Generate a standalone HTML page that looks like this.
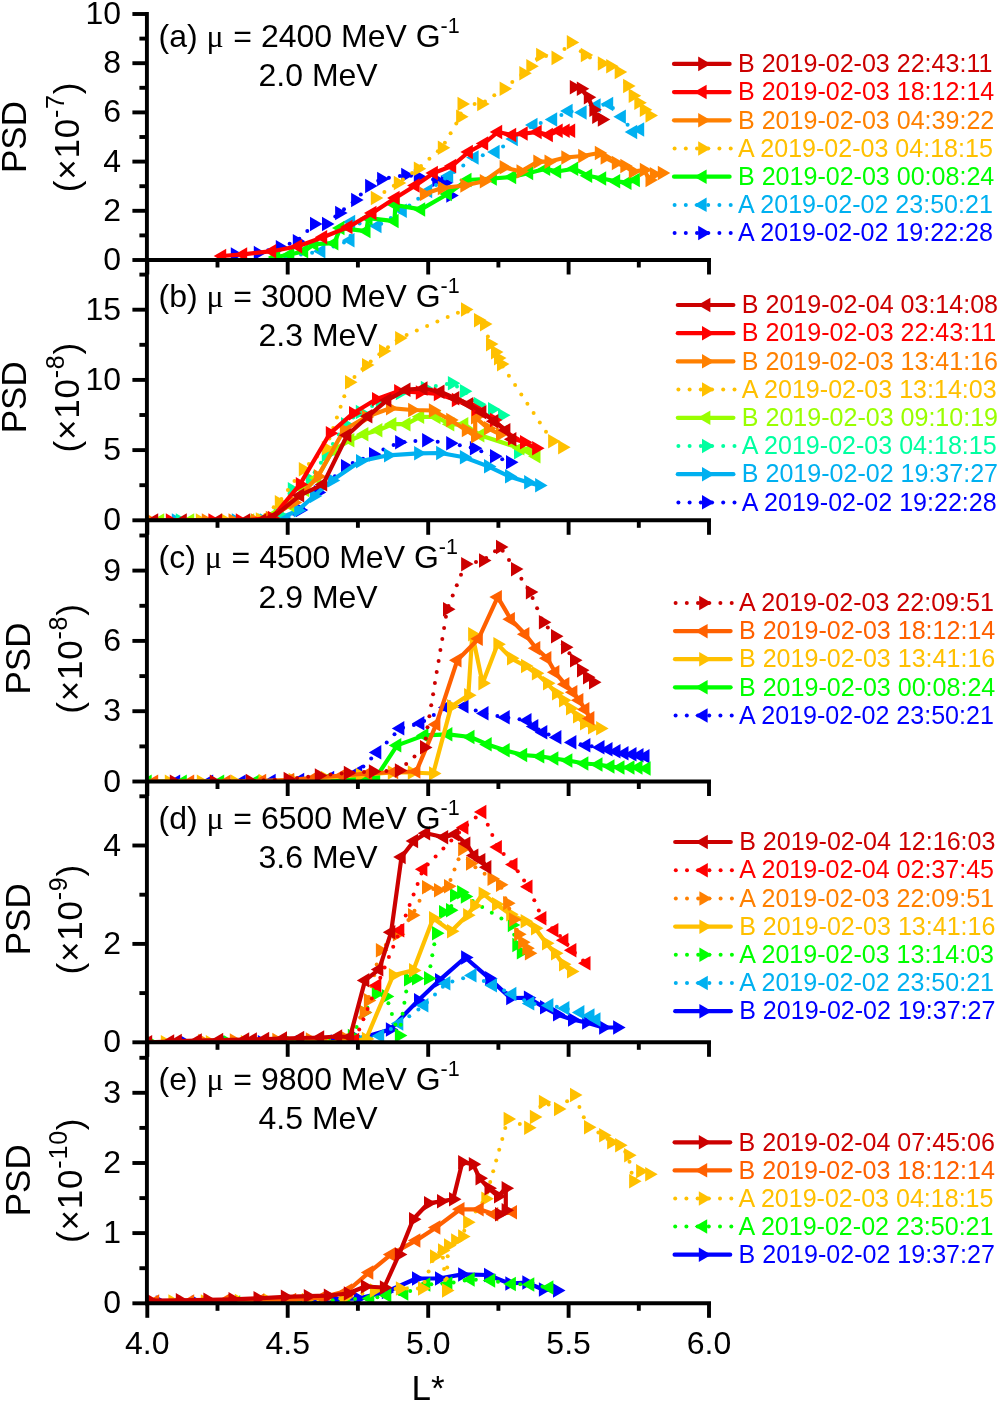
<!DOCTYPE html>
<html lang="en"><head><meta charset="utf-8"><title>PSD vs L*</title>
<style>html,body{margin:0;padding:0;background:#fff}svg{display:block}text{font-family:"Liberation Sans", sans-serif;}</style></head><body>
<svg width="998" height="1401" viewBox="0 0 998 1401">
<rect width="998" height="1401" fill="#fff"/>
<clipPath id="cp0"><rect x="146.9" y="0" width="582.1" height="260.0"/></clipPath>
<g clip-path="url(#cp0)">
<g fill="#0000FF"><circle cx="235.0" cy="254.5" r="2.0"/><circle cx="246.2" cy="253.8" r="2.0"/><circle cx="257.4" cy="253.0" r="2.0"/><circle cx="268.2" cy="250.3" r="2.0"/><circle cx="279.0" cy="247.5" r="2.0"/><circle cx="289.6" cy="243.8" r="2.0"/><circle cx="299.4" cy="238.8" r="2.0"/><circle cx="307.3" cy="230.9" r="2.0"/><circle cx="315.7" cy="224.1" r="2.0"/><circle cx="326.7" cy="223.6" r="2.0"/><circle cx="335.3" cy="216.4" r="2.0"/><circle cx="344.0" cy="209.3" r="2.0"/><circle cx="352.7" cy="202.2" r="2.0"/><circle cx="360.8" cy="194.6" r="2.0"/><circle cx="368.7" cy="186.7" r="2.0"/><circle cx="378.2" cy="180.8" r="2.0"/><circle cx="388.9" cy="177.7" r="2.0"/><circle cx="399.9" cy="175.9" r="2.0"/><circle cx="411.0" cy="175.7" r="2.0"/><circle cx="422.1" cy="177.3" r="2.0"/><circle cx="433.1" cy="179.4" r="2.0"/><circle cx="443.8" cy="182.3" r="2.0"/><circle cx="449.0" cy="191.9" r="2.0"/></g>
<polygon points="230.8,247.2 243.3,254.5 230.8,261.8" fill="#0000FF"/>
<polygon points="253.8,245.8 266.3,253.0 253.8,260.2" fill="#0000FF"/>
<polygon points="275.8,239.9 288.3,247.2 275.8,254.4" fill="#0000FF"/>
<polygon points="292.8,233.9 305.3,241.2 292.8,248.4" fill="#0000FF"/>
<polygon points="310.0,216.8 322.5,224.1 310.0,231.3" fill="#0000FF"/>
<polygon points="322.0,216.8 334.5,224.1 322.0,231.3" fill="#0000FF"/>
<polygon points="335.1,205.8 347.6,213.1 335.1,220.3" fill="#0000FF"/>
<polygon points="351.1,192.8 363.6,200.1 351.1,207.3" fill="#0000FF"/>
<polygon points="365.1,178.8 377.6,186.1 365.1,193.3" fill="#0000FF"/>
<polygon points="377.1,171.8 389.6,179.0 377.1,186.2" fill="#0000FF"/>
<polygon points="401.2,167.8 413.7,175.0 401.2,182.2" fill="#0000FF"/>
<polygon points="413.8,169.2 426.3,176.5 413.8,183.8" fill="#0000FF"/>
<polygon points="432.3,172.8 444.8,180.0 432.3,187.2" fill="#0000FF"/>
<polygon points="440.8,175.4 453.3,182.7 440.8,189.9" fill="#0000FF"/>
<polygon points="446.3,188.2 458.8,195.4 446.3,202.7" fill="#0000FF"/>
<g fill="#00B0F0"><circle cx="290.0" cy="256.5" r="2.0"/><circle cx="301.0" cy="254.6" r="2.0"/><circle cx="312.1" cy="252.7" r="2.0"/><circle cx="323.0" cy="250.5" r="2.0"/><circle cx="333.5" cy="246.5" r="2.0"/><circle cx="344.0" cy="242.6" r="2.0"/><circle cx="350.5" cy="235.8" r="2.0"/><circle cx="350.9" cy="224.6" r="2.0"/><circle cx="359.6" cy="223.4" r="2.0"/><circle cx="370.7" cy="225.1" r="2.0"/><circle cx="381.2" cy="223.8" r="2.0"/><circle cx="390.8" cy="218.0" r="2.0"/><circle cx="400.3" cy="212.2" r="2.0"/><circle cx="409.4" cy="205.5" r="2.0"/><circle cx="418.2" cy="198.7" r="2.0"/><circle cx="427.0" cy="191.8" r="2.0"/><circle cx="436.0" cy="185.1" r="2.0"/><circle cx="445.1" cy="178.5" r="2.0"/><circle cx="454.2" cy="172.0" r="2.0"/><circle cx="463.3" cy="165.5" r="2.0"/><circle cx="472.4" cy="158.9" r="2.0"/><circle cx="482.8" cy="155.3" r="2.0"/><circle cx="493.7" cy="152.5" r="2.0"/><circle cx="503.1" cy="146.5" r="2.0"/><circle cx="512.2" cy="140.0" r="2.0"/><circle cx="521.3" cy="133.5" r="2.0"/><circle cx="530.4" cy="127.0" r="2.0"/><circle cx="540.7" cy="123.0" r="2.0"/><circle cx="551.5" cy="120.0" r="2.0"/><circle cx="561.4" cy="114.9" r="2.0"/><circle cx="571.6" cy="111.4" r="2.0"/><circle cx="582.7" cy="112.5" r="2.0"/><circle cx="592.7" cy="107.4" r="2.0"/><circle cx="603.4" cy="104.7" r="2.0"/><circle cx="612.9" cy="108.0" r="2.0"/><circle cx="620.8" cy="115.9" r="2.0"/><circle cx="627.6" cy="124.8" r="2.0"/><circle cx="635.1" cy="131.2" r="2.0"/></g>
<polygon points="294.2,249.2 281.7,256.5 294.2,263.8" fill="#00B0F0"/>
<polygon points="325.4,243.9 312.9,251.2 325.4,258.4" fill="#00B0F0"/>
<polygon points="354.5,232.9 342.0,240.2 354.5,247.4" fill="#00B0F0"/>
<polygon points="355.2,214.8 342.7,222.1 355.2,229.3" fill="#00B0F0"/>
<polygon points="381.5,218.8 369.0,226.1 381.5,233.3" fill="#00B0F0"/>
<polygon points="406.8,203.6 394.3,210.8 406.8,218.1" fill="#00B0F0"/>
<polygon points="432.2,183.8 419.7,191.0 432.2,198.2" fill="#00B0F0"/>
<polygon points="453.2,168.4 440.7,175.7 453.2,182.9" fill="#00B0F0"/>
<polygon points="478.6,150.2 466.1,157.5 478.6,164.8" fill="#00B0F0"/>
<polygon points="499.6,144.8 487.1,152.0 499.6,159.2" fill="#00B0F0"/>
<polygon points="517.8,131.8 505.3,139.0 517.8,146.2" fill="#00B0F0"/>
<polygon points="537.5,117.8 525.0,125.0 537.5,132.2" fill="#00B0F0"/>
<polygon points="557.2,112.3 544.7,119.6 557.2,126.8" fill="#00B0F0"/>
<polygon points="572.6,103.8 560.1,111.0 572.6,118.2" fill="#00B0F0"/>
<polygon points="586.6,105.3 574.1,112.6 586.6,119.8" fill="#00B0F0"/>
<polygon points="600.6,98.3 588.1,105.6 600.6,112.8" fill="#00B0F0"/>
<polygon points="613.2,96.8 600.7,104.0 613.2,111.2" fill="#00B0F0"/>
<polygon points="625.9,109.5 613.4,116.8 625.9,124.0" fill="#00B0F0"/>
<polygon points="637.2,124.8 624.7,132.0 637.2,139.2" fill="#00B0F0"/>
<polygon points="644.2,122.2 631.7,129.4 644.2,136.7" fill="#00B0F0"/>
<path d="M276.0 257.0 L290.0 254.5 L304.0 251.2 L314.2 244.2 L334.2 243.2 L340.3 228.1 L366.3 231.1 L368.3 218.1 L394.4 221.1 L395.4 205.1 L421.0 209.4 L447.7 194.0 L467.3 180.0 L492.6 178.5 L512.0 177.0 L529.0 173.0 L546.0 168.7 L557.0 171.5 L574.0 168.7 L588.0 175.7 L602.0 178.5 L616.0 181.3 L627.3 182.7 L635.7 180.0" fill="none" stroke="#00FF00" stroke-width="4.2" stroke-linejoin="round" stroke-linecap="round"/>
<polygon points="280.2,249.8 267.7,257.0 280.2,264.2" fill="#00FF00"/>
<polygon points="294.2,247.2 281.7,254.5 294.2,261.8" fill="#00FF00"/>
<polygon points="308.2,243.9 295.7,251.2 308.2,258.4" fill="#00FF00"/>
<polygon points="318.4,236.9 305.9,244.2 318.4,251.4" fill="#00FF00"/>
<polygon points="338.4,235.9 325.9,243.2 338.4,250.4" fill="#00FF00"/>
<polygon points="344.5,220.8 332.0,228.1 344.5,235.3" fill="#00FF00"/>
<polygon points="370.5,223.8 358.0,231.1 370.5,238.3" fill="#00FF00"/>
<polygon points="372.5,210.8 360.0,218.1 372.5,225.3" fill="#00FF00"/>
<polygon points="398.6,213.8 386.1,221.1 398.6,228.3" fill="#00FF00"/>
<polygon points="399.6,197.8 387.1,205.1 399.6,212.3" fill="#00FF00"/>
<polygon points="425.2,202.2 412.7,209.4 425.2,216.7" fill="#00FF00"/>
<polygon points="451.9,186.8 439.4,194.0 451.9,201.2" fill="#00FF00"/>
<polygon points="471.5,172.8 459.0,180.0 471.5,187.2" fill="#00FF00"/>
<polygon points="496.8,171.2 484.3,178.5 496.8,185.8" fill="#00FF00"/>
<polygon points="516.2,169.8 503.7,177.0 516.2,184.2" fill="#00FF00"/>
<polygon points="533.2,165.8 520.7,173.0 533.2,180.2" fill="#00FF00"/>
<polygon points="550.2,161.4 537.7,168.7 550.2,175.9" fill="#00FF00"/>
<polygon points="561.2,164.2 548.7,171.5 561.2,178.8" fill="#00FF00"/>
<polygon points="578.2,161.4 565.7,168.7 578.2,175.9" fill="#00FF00"/>
<polygon points="592.2,168.4 579.7,175.7 592.2,182.9" fill="#00FF00"/>
<polygon points="606.2,171.2 593.7,178.5 606.2,185.8" fill="#00FF00"/>
<polygon points="620.2,174.1 607.7,181.3 620.2,188.6" fill="#00FF00"/>
<polygon points="631.5,175.4 619.0,182.7 631.5,189.9" fill="#00FF00"/>
<polygon points="639.9,172.8 627.4,180.0 639.9,187.2" fill="#00FF00"/>
<g fill="#FFC000"><circle cx="375.0" cy="198.0" r="2.0"/><circle cx="384.4" cy="191.9" r="2.0"/><circle cx="393.8" cy="185.8" r="2.0"/><circle cx="403.0" cy="179.4" r="2.0"/><circle cx="412.1" cy="172.9" r="2.0"/><circle cx="421.0" cy="166.1" r="2.0"/><circle cx="429.4" cy="158.7" r="2.0"/><circle cx="437.8" cy="151.3" r="2.0"/><circle cx="444.9" cy="142.8" r="2.0"/><circle cx="450.6" cy="133.2" r="2.0"/><circle cx="456.3" cy="123.6" r="2.0"/><circle cx="460.7" cy="113.5" r="2.0"/><circle cx="463.4" cy="104.0" r="2.0"/><circle cx="474.6" cy="104.0" r="2.0"/><circle cx="485.0" cy="101.5" r="2.0"/><circle cx="494.3" cy="95.2" r="2.0"/><circle cx="503.5" cy="88.9" r="2.0"/><circle cx="512.3" cy="82.0" r="2.0"/><circle cx="521.2" cy="75.1" r="2.0"/><circle cx="529.3" cy="67.5" r="2.0"/><circle cx="536.8" cy="59.1" r="2.0"/><circle cx="546.0" cy="56.1" r="2.0"/><circle cx="556.6" cy="57.0" r="2.0"/><circle cx="564.5" cy="49.0" r="2.0"/><circle cx="572.4" cy="43.7" r="2.0"/><circle cx="580.8" cy="51.2" r="2.0"/><circle cx="589.9" cy="57.5" r="2.0"/><circle cx="599.9" cy="62.5" r="2.0"/><circle cx="610.4" cy="66.3" r="2.0"/><circle cx="619.4" cy="72.8" r="2.0"/><circle cx="625.2" cy="82.4" r="2.0"/><circle cx="630.8" cy="92.1" r="2.0"/><circle cx="637.2" cy="101.2" r="2.0"/><circle cx="644.2" cy="110.0" r="2.0"/></g>
<polygon points="370.8,190.8 383.3,198.0 370.8,205.2" fill="#FFC000"/>
<polygon points="393.8,175.8 406.3,183.0 393.8,190.2" fill="#FFC000"/>
<polygon points="413.8,161.4 426.3,168.7 413.8,175.9" fill="#FFC000"/>
<polygon points="437.8,140.4 450.3,147.7 437.8,154.9" fill="#FFC000"/>
<polygon points="456.1,109.5 468.6,116.8 456.1,124.0" fill="#FFC000"/>
<polygon points="457.5,96.8 470.0,104.0 457.5,111.2" fill="#FFC000"/>
<polygon points="477.2,96.8 489.7,104.0 477.2,111.2" fill="#FFC000"/>
<polygon points="499.6,81.5 512.1,88.7 499.6,96.0" fill="#FFC000"/>
<polygon points="519.3,66.0 531.8,73.3 519.3,80.5" fill="#FFC000"/>
<polygon points="526.3,59.0 538.8,66.3 526.3,73.5" fill="#FFC000"/>
<polygon points="536.1,47.8 548.6,55.0 536.1,62.2" fill="#FFC000"/>
<polygon points="551.5,50.6 564.0,57.9 551.5,65.2" fill="#FFC000"/>
<polygon points="566.8,35.1 579.3,42.4 566.8,49.6" fill="#FFC000"/>
<polygon points="580.8,47.8 593.3,55.0 580.8,62.2" fill="#FFC000"/>
<polygon points="597.8,56.2 610.3,63.5 597.8,70.8" fill="#FFC000"/>
<polygon points="606.2,59.0 618.7,66.3 606.2,73.5" fill="#FFC000"/>
<polygon points="614.7,64.7 627.2,71.9 614.7,79.2" fill="#FFC000"/>
<polygon points="623.1,78.7 635.6,85.9 623.1,93.2" fill="#FFC000"/>
<polygon points="628.7,88.5 641.2,95.8 628.7,103.0" fill="#FFC000"/>
<polygon points="634.3,95.5 646.8,102.8 634.3,110.0" fill="#FFC000"/>
<polygon points="639.8,102.5 652.3,109.8 639.8,117.0" fill="#FFC000"/>
<polygon points="645.5,108.2 658.0,115.4 645.5,122.7" fill="#FFC000"/>
<path d="M424.0 194.0 L442.0 188.0 L464.5 185.5 L484.0 181.3 L503.8 167.3 L520.7 171.5 L537.5 161.7 L548.7 161.7 L565.5 157.5 L582.4 156.0 L599.0 153.0 L604.8 157.5 L616.0 163.0 L624.5 166.0 L633.0 171.5 L644.0 170.0 L649.7 180.0 L654.0 174.3 L662.0 173.0" fill="none" stroke="#FF8000" stroke-width="4.2" stroke-linejoin="round" stroke-linecap="round"/>
<polygon points="419.8,186.8 432.3,194.0 419.8,201.2" fill="#FF8000"/>
<polygon points="437.8,180.8 450.3,188.0 437.8,195.2" fill="#FF8000"/>
<polygon points="460.3,178.2 472.8,185.5 460.3,192.8" fill="#FF8000"/>
<polygon points="479.8,174.1 492.3,181.3 479.8,188.6" fill="#FF8000"/>
<polygon points="499.6,160.1 512.1,167.3 499.6,174.6" fill="#FF8000"/>
<polygon points="516.5,164.2 529.0,171.5 516.5,178.8" fill="#FF8000"/>
<polygon points="533.3,154.4 545.8,161.7 533.3,168.9" fill="#FF8000"/>
<polygon points="544.5,154.4 557.0,161.7 544.5,168.9" fill="#FF8000"/>
<polygon points="561.3,150.2 573.8,157.5 561.3,164.8" fill="#FF8000"/>
<polygon points="578.2,148.8 590.7,156.0 578.2,163.2" fill="#FF8000"/>
<polygon points="594.8,145.8 607.3,153.0 594.8,160.2" fill="#FF8000"/>
<polygon points="600.6,150.2 613.1,157.5 600.6,164.8" fill="#FF8000"/>
<polygon points="611.8,155.8 624.3,163.0 611.8,170.2" fill="#FF8000"/>
<polygon points="620.3,158.8 632.8,166.0 620.3,173.2" fill="#FF8000"/>
<polygon points="628.8,164.2 641.3,171.5 628.8,178.8" fill="#FF8000"/>
<polygon points="639.8,162.8 652.3,170.0 639.8,177.2" fill="#FF8000"/>
<polygon points="645.5,172.8 658.0,180.0 645.5,187.2" fill="#FF8000"/>
<polygon points="649.8,167.1 662.3,174.3 649.8,181.6" fill="#FF8000"/>
<polygon points="657.8,165.8 670.3,173.0 657.8,180.2" fill="#FF8000"/>
<path d="M222.0 256.0 L243.0 254.4 L272.0 251.2 L298.0 246.2 L323.0 237.2 L348.3 227.1 L372.3 213.1 L395.4 198.1 L415.4 185.5 L433.7 173.0 L452.0 166.0 L468.7 152.0 L484.0 143.5 L498.0 132.0 L512.0 135.0 L523.5 133.6 L537.5 132.0 L548.7 135.0 L558.5 130.8 L565.5 130.8 L571.0 130.8" fill="none" stroke="#FF0000" stroke-width="4.2" stroke-linejoin="round" stroke-linecap="round"/>
<polygon points="226.2,248.8 213.7,256.0 226.2,263.2" fill="#FF0000"/>
<polygon points="247.2,247.2 234.7,254.4 247.2,261.6" fill="#FF0000"/>
<polygon points="276.2,243.9 263.7,251.2 276.2,258.4" fill="#FF0000"/>
<polygon points="302.2,238.9 289.7,246.2 302.2,253.4" fill="#FF0000"/>
<polygon points="327.2,229.9 314.7,237.2 327.2,244.4" fill="#FF0000"/>
<polygon points="352.5,219.8 340.0,227.1 352.5,234.3" fill="#FF0000"/>
<polygon points="376.5,205.8 364.0,213.1 376.5,220.3" fill="#FF0000"/>
<polygon points="399.6,190.8 387.1,198.1 399.6,205.3" fill="#FF0000"/>
<polygon points="419.6,178.2 407.1,185.5 419.6,192.8" fill="#FF0000"/>
<polygon points="437.9,165.8 425.4,173.0 437.9,180.2" fill="#FF0000"/>
<polygon points="456.2,158.8 443.7,166.0 456.2,173.2" fill="#FF0000"/>
<polygon points="472.9,144.8 460.4,152.0 472.9,159.2" fill="#FF0000"/>
<polygon points="488.2,136.2 475.7,143.5 488.2,150.8" fill="#FF0000"/>
<polygon points="502.2,124.8 489.7,132.0 502.2,139.2" fill="#FF0000"/>
<polygon points="516.2,127.8 503.7,135.0 516.2,142.2" fill="#FF0000"/>
<polygon points="527.7,126.3 515.2,133.6 527.7,140.8" fill="#FF0000"/>
<polygon points="541.7,124.8 529.2,132.0 541.7,139.2" fill="#FF0000"/>
<polygon points="552.9,127.8 540.4,135.0 552.9,142.2" fill="#FF0000"/>
<polygon points="562.7,123.6 550.2,130.8 562.7,138.1" fill="#FF0000"/>
<polygon points="569.7,123.6 557.2,130.8 569.7,138.1" fill="#FF0000"/>
<polygon points="575.2,123.6 562.7,130.8 575.2,138.1" fill="#FF0000"/>
<path d="M574.0 87.3 L581.0 88.7 L588.0 97.2 L593.6 109.8 L596.4 116.8 L602.0 119.6" fill="none" stroke="#CC0000" stroke-width="4.2" stroke-linejoin="round" stroke-linecap="round"/>
<polygon points="569.8,80.0 582.3,87.3 569.8,94.5" fill="#CC0000"/>
<polygon points="576.8,81.5 589.3,88.7 576.8,96.0" fill="#CC0000"/>
<polygon points="583.8,90.0 596.3,97.2 583.8,104.5" fill="#CC0000"/>
<polygon points="589.4,102.5 601.9,109.8 589.4,117.0" fill="#CC0000"/>
<polygon points="592.2,109.5 604.7,116.8 592.2,124.0" fill="#CC0000"/>
<polygon points="597.8,112.3 610.3,119.6 597.8,126.8" fill="#CC0000"/>
</g>
<clipPath id="cp1"><rect x="146.9" y="0" width="582.1" height="520.3"/></clipPath>
<g clip-path="url(#cp1)">
<g fill="#0000FF"><circle cx="284.0" cy="519.5" r="2.0"/><circle cx="293.6" cy="513.8" r="2.0"/><circle cx="302.7" cy="507.3" r="2.0"/><circle cx="310.7" cy="499.5" r="2.0"/><circle cx="318.7" cy="491.7" r="2.0"/><circle cx="326.8" cy="483.9" r="2.0"/><circle cx="334.9" cy="476.2" r="2.0"/><circle cx="343.0" cy="468.4" r="2.0"/><circle cx="352.7" cy="463.1" r="2.0"/><circle cx="363.0" cy="458.7" r="2.0"/><circle cx="373.3" cy="454.3" r="2.0"/><circle cx="383.4" cy="449.6" r="2.0"/><circle cx="393.6" cy="444.9" r="2.0"/><circle cx="404.2" cy="441.9" r="2.0"/><circle cx="415.4" cy="441.1" r="2.0"/><circle cx="426.6" cy="440.3" r="2.0"/><circle cx="437.7" cy="441.7" r="2.0"/><circle cx="448.8" cy="443.1" r="2.0"/><circle cx="459.8" cy="445.3" r="2.0"/><circle cx="470.7" cy="447.6" r="2.0"/><circle cx="481.3" cy="451.2" r="2.0"/><circle cx="491.7" cy="455.3" r="2.0"/><circle cx="502.2" cy="459.3" r="2.0"/></g>
<polygon points="279.8,512.2 292.3,519.5 279.8,526.8" fill="#0000FF"/>
<polygon points="295.8,502.8 308.3,510.0 295.8,517.2" fill="#0000FF"/>
<polygon points="313.8,485.1 326.3,492.4 313.8,499.6" fill="#0000FF"/>
<polygon points="341.0,459.1 353.5,466.3 341.0,473.6" fill="#0000FF"/>
<polygon points="369.0,447.1 381.5,454.3 369.0,461.6" fill="#0000FF"/>
<polygon points="395.1,435.1 407.6,442.3 395.1,449.6" fill="#0000FF"/>
<polygon points="422.1,433.1 434.6,440.3 422.1,447.6" fill="#0000FF"/>
<polygon points="446.2,436.1 458.7,443.3 446.2,450.6" fill="#0000FF"/>
<polygon points="469.9,441.1 482.4,448.3 469.9,455.6" fill="#0000FF"/>
<polygon points="490.0,449.1 502.5,456.3 490.0,463.6" fill="#0000FF"/>
<polygon points="506.0,455.1 518.5,462.3 506.0,469.6" fill="#0000FF"/>
<path d="M148.0 520.5 L176.0 520.5 L236.0 520.5 L264.0 520.5 L283.0 517.0 L298.0 510.4 L314.0 496.0 L332.0 480.4 L360.2 461.3 L388.2 455.3 L418.3 453.3 L440.3 453.0 L464.1 457.3 L488.2 466.4 L509.2 476.4 L528.3 482.4 L539.3 485.4" fill="none" stroke="#00B0F0" stroke-width="4.2" stroke-linejoin="round" stroke-linecap="round"/>
<polygon points="143.8,513.2 156.3,520.5 143.8,527.8" fill="#00B0F0"/>
<polygon points="171.8,513.2 184.3,520.5 171.8,527.8" fill="#00B0F0"/>
<polygon points="231.8,513.2 244.3,520.5 231.8,527.8" fill="#00B0F0"/>
<polygon points="259.8,513.2 272.3,520.5 259.8,527.8" fill="#00B0F0"/>
<polygon points="278.8,509.8 291.3,517.0 278.8,524.2" fill="#00B0F0"/>
<polygon points="293.8,503.1 306.3,510.4 293.8,517.6" fill="#00B0F0"/>
<polygon points="309.8,488.8 322.3,496.0 309.8,503.2" fill="#00B0F0"/>
<polygon points="327.8,473.1 340.3,480.4 327.8,487.6" fill="#00B0F0"/>
<polygon points="356.0,454.1 368.5,461.3 356.0,468.6" fill="#00B0F0"/>
<polygon points="384.0,448.1 396.5,455.3 384.0,462.6" fill="#00B0F0"/>
<polygon points="414.1,446.1 426.6,453.3 414.1,460.6" fill="#00B0F0"/>
<polygon points="436.1,445.8 448.6,453.0 436.1,460.2" fill="#00B0F0"/>
<polygon points="459.9,450.1 472.4,457.3 459.9,464.6" fill="#00B0F0"/>
<polygon points="484.0,459.1 496.5,466.4 484.0,473.6" fill="#00B0F0"/>
<polygon points="505.0,469.1 517.5,476.4 505.0,483.6" fill="#00B0F0"/>
<polygon points="524.1,475.1 536.6,482.4 524.1,489.6" fill="#00B0F0"/>
<polygon points="535.1,478.1 547.6,485.4 535.1,492.6" fill="#00B0F0"/>
<g fill="#00FFA0"><circle cx="180.0" cy="520.5" r="2.0"/><circle cx="191.2" cy="520.5" r="2.0"/><circle cx="202.4" cy="520.5" r="2.0"/><circle cx="213.6" cy="520.5" r="2.0"/><circle cx="224.8" cy="520.5" r="2.0"/><circle cx="236.0" cy="520.5" r="2.0"/><circle cx="247.2" cy="520.5" r="2.0"/><circle cx="258.4" cy="520.5" r="2.0"/><circle cx="269.0" cy="517.6" r="2.0"/><circle cx="278.8" cy="512.7" r="2.0"/><circle cx="284.3" cy="502.9" r="2.0"/><circle cx="289.8" cy="493.2" r="2.0"/><circle cx="298.0" cy="486.1" r="2.0"/><circle cx="307.8" cy="480.6" r="2.0"/><circle cx="314.7" cy="472.2" r="2.0"/><circle cx="320.9" cy="462.8" r="2.0"/><circle cx="327.0" cy="453.4" r="2.0"/><circle cx="332.9" cy="443.9" r="2.0"/><circle cx="338.8" cy="434.4" r="2.0"/><circle cx="344.8" cy="424.9" r="2.0"/><circle cx="353.2" cy="417.6" r="2.0"/><circle cx="362.1" cy="410.9" r="2.0"/><circle cx="372.1" cy="405.9" r="2.0"/><circle cx="382.2" cy="401.0" r="2.0"/><circle cx="392.4" cy="396.4" r="2.0"/><circle cx="402.8" cy="392.4" r="2.0"/><circle cx="413.8" cy="390.2" r="2.0"/><circle cx="424.8" cy="388.0" r="2.0"/><circle cx="435.8" cy="386.1" r="2.0"/><circle cx="446.9" cy="384.1" r="2.0"/><circle cx="457.0" cy="386.5" r="2.0"/><circle cx="466.0" cy="393.0" r="2.0"/><circle cx="474.3" cy="400.6" r="2.0"/><circle cx="483.7" cy="406.2" r="2.0"/><circle cx="494.1" cy="410.3" r="2.0"/><circle cx="502.9" cy="416.8" r="2.0"/><circle cx="507.3" cy="427.1" r="2.0"/><circle cx="511.8" cy="437.4" r="2.0"/><circle cx="516.2" cy="447.7" r="2.0"/></g>
<polygon points="175.8,513.2 188.3,520.5 175.8,527.8" fill="#00FFA0"/>
<polygon points="257.8,513.2 270.3,520.5 257.8,527.8" fill="#00FFA0"/>
<polygon points="273.8,506.8 286.3,514.0 273.8,521.2" fill="#00FFA0"/>
<polygon points="287.8,482.1 300.3,489.4 287.8,496.6" fill="#00FFA0"/>
<polygon points="305.8,472.1 318.3,479.4 305.8,486.6" fill="#00FFA0"/>
<polygon points="321.8,447.8 334.3,455.0 321.8,462.2" fill="#00FFA0"/>
<polygon points="341.0,416.9 353.5,424.2 341.0,431.4" fill="#00FFA0"/>
<polygon points="355.8,404.8 368.3,412.0 355.8,419.2" fill="#00FFA0"/>
<polygon points="375.8,394.8 388.3,402.0 375.8,409.2" fill="#00FFA0"/>
<polygon points="395.8,385.8 408.3,393.0 395.8,400.2" fill="#00FFA0"/>
<polygon points="420.8,380.8 433.3,388.0 420.8,395.2" fill="#00FFA0"/>
<polygon points="447.9,375.9 460.4,383.2 447.9,390.4" fill="#00FFA0"/>
<polygon points="459.9,383.9 472.4,391.2 459.9,398.4" fill="#00FFA0"/>
<polygon points="474.0,396.9 486.5,404.2 474.0,411.4" fill="#00FFA0"/>
<polygon points="488.0,401.9 500.5,409.2 488.0,416.4" fill="#00FFA0"/>
<polygon points="498.0,407.9 510.5,415.2 498.0,422.4" fill="#00FFA0"/>
<polygon points="514.0,445.1 526.5,452.3 514.0,459.6" fill="#00FFA0"/>
<path d="M160.0 520.5 L190.0 520.5 L250.0 520.5 L272.0 516.0 L290.0 505.0 L305.0 490.0 L317.0 478.0 L333.0 450.0 L350.2 440.3 L364.2 434.3 L378.2 430.3 L392.2 424.2 L406.3 424.2 L420.0 416.8 L436.3 417.0 L450.1 424.3 L464.1 424.3 L480.2 435.3 L520.2 448.3 L528.3 450.3 L536.3 456.3" fill="none" stroke="#99FF00" stroke-width="4.2" stroke-linejoin="round" stroke-linecap="round"/>
<polygon points="164.2,513.2 151.7,520.5 164.2,527.8" fill="#99FF00"/>
<polygon points="194.2,513.2 181.7,520.5 194.2,527.8" fill="#99FF00"/>
<polygon points="254.2,513.2 241.7,520.5 254.2,527.8" fill="#99FF00"/>
<polygon points="276.2,508.8 263.7,516.0 276.2,523.2" fill="#99FF00"/>
<polygon points="294.2,497.8 281.7,505.0 294.2,512.2" fill="#99FF00"/>
<polygon points="309.2,482.8 296.7,490.0 309.2,497.2" fill="#99FF00"/>
<polygon points="321.2,470.8 308.7,478.0 321.2,485.2" fill="#99FF00"/>
<polygon points="337.2,442.8 324.7,450.0 337.2,457.2" fill="#99FF00"/>
<polygon points="354.4,433.1 341.9,440.3 354.4,447.6" fill="#99FF00"/>
<polygon points="368.4,427.1 355.9,434.3 368.4,441.6" fill="#99FF00"/>
<polygon points="382.4,423.1 369.9,430.3 382.4,437.6" fill="#99FF00"/>
<polygon points="396.4,416.9 383.9,424.2 396.4,431.4" fill="#99FF00"/>
<polygon points="410.5,416.9 398.0,424.2 410.5,431.4" fill="#99FF00"/>
<polygon points="424.2,409.6 411.7,416.8 424.2,424.1" fill="#99FF00"/>
<polygon points="440.5,409.8 428.0,417.0 440.5,424.2" fill="#99FF00"/>
<polygon points="454.3,417.1 441.8,424.3 454.3,431.6" fill="#99FF00"/>
<polygon points="468.3,417.1 455.8,424.3 468.3,431.6" fill="#99FF00"/>
<polygon points="484.4,428.1 471.9,435.3 484.4,442.6" fill="#99FF00"/>
<polygon points="524.4,441.1 511.9,448.3 524.4,455.6" fill="#99FF00"/>
<polygon points="532.5,443.1 520.0,450.3 532.5,457.6" fill="#99FF00"/>
<polygon points="540.5,449.1 528.0,456.3 540.5,463.6" fill="#99FF00"/>
<g fill="#FFC000"><circle cx="200.0" cy="520.5" r="2.0"/><circle cx="211.2" cy="520.5" r="2.0"/><circle cx="222.4" cy="520.5" r="2.0"/><circle cx="233.6" cy="520.3" r="2.0"/><circle cx="244.8" cy="519.9" r="2.0"/><circle cx="256.0" cy="519.6" r="2.0"/><circle cx="265.3" cy="514.7" r="2.0"/><circle cx="273.7" cy="507.2" r="2.0"/><circle cx="281.4" cy="499.1" r="2.0"/><circle cx="287.9" cy="490.1" r="2.0"/><circle cx="294.5" cy="481.0" r="2.0"/><circle cx="301.1" cy="471.9" r="2.0"/><circle cx="308.9" cy="463.9" r="2.0"/><circle cx="317.1" cy="456.4" r="2.0"/><circle cx="325.4" cy="448.8" r="2.0"/><circle cx="329.4" cy="438.5" r="2.0"/><circle cx="333.2" cy="427.9" r="2.0"/><circle cx="336.9" cy="417.4" r="2.0"/><circle cx="340.6" cy="406.8" r="2.0"/><circle cx="344.3" cy="396.2" r="2.0"/><circle cx="348.0" cy="385.7" r="2.0"/><circle cx="354.5" cy="376.9" r="2.0"/><circle cx="362.4" cy="368.9" r="2.0"/><circle cx="370.7" cy="361.4" r="2.0"/><circle cx="379.3" cy="354.3" r="2.0"/><circle cx="388.0" cy="347.2" r="2.0"/><circle cx="396.7" cy="340.2" r="2.0"/><circle cx="406.6" cy="335.0" r="2.0"/><circle cx="416.8" cy="330.5" r="2.0"/><circle cx="427.1" cy="326.0" r="2.0"/><circle cx="437.4" cy="321.6" r="2.0"/><circle cx="447.7" cy="317.1" r="2.0"/><circle cx="457.9" cy="312.7" r="2.0"/><circle cx="467.7" cy="311.6" r="2.0"/><circle cx="476.4" cy="318.6" r="2.0"/><circle cx="484.7" cy="325.7" r="2.0"/><circle cx="487.9" cy="336.4" r="2.0"/><circle cx="491.9" cy="346.8" r="2.0"/><circle cx="497.4" cy="356.5" r="2.0"/><circle cx="502.7" cy="366.4" r="2.0"/><circle cx="508.9" cy="375.7" r="2.0"/><circle cx="515.1" cy="385.1" r="2.0"/><circle cx="521.3" cy="394.4" r="2.0"/><circle cx="527.4" cy="403.8" r="2.0"/><circle cx="533.6" cy="413.1" r="2.0"/><circle cx="539.8" cy="422.4" r="2.0"/><circle cx="546.0" cy="431.8" r="2.0"/><circle cx="552.2" cy="441.1" r="2.0"/><circle cx="561.7" cy="446.9" r="2.0"/></g>
<polygon points="195.8,513.2 208.3,520.5 195.8,527.8" fill="#FFC000"/>
<polygon points="220.8,513.2 233.3,520.5 220.8,527.8" fill="#FFC000"/>
<polygon points="255.8,512.2 268.3,519.5 255.8,526.8" fill="#FFC000"/>
<polygon points="274.8,495.1 287.3,502.4 274.8,509.6" fill="#FFC000"/>
<polygon points="298.8,462.1 311.3,469.3 298.8,476.6" fill="#FFC000"/>
<polygon points="321.8,441.1 334.3,448.3 321.8,455.6" fill="#FFC000"/>
<polygon points="345.0,374.9 357.5,382.2 345.0,389.4" fill="#FFC000"/>
<polygon points="362.0,357.9 374.5,365.1 362.0,372.4" fill="#FFC000"/>
<polygon points="379.0,343.9 391.5,351.1 379.0,358.4" fill="#FFC000"/>
<polygon points="395.1,330.9 407.6,338.1 395.1,345.4" fill="#FFC000"/>
<polygon points="461.0,302.2 473.5,309.5 461.0,316.8" fill="#FFC000"/>
<polygon points="474.0,312.9 486.5,320.1 474.0,327.4" fill="#FFC000"/>
<polygon points="480.0,316.9 492.5,324.1 480.0,331.4" fill="#FFC000"/>
<polygon points="486.0,336.9 498.5,344.1 486.0,351.4" fill="#FFC000"/>
<polygon points="491.0,344.9 503.5,352.1 491.0,359.4" fill="#FFC000"/>
<polygon points="494.0,350.9 506.5,358.1 494.0,365.4" fill="#FFC000"/>
<polygon points="497.0,356.9 509.5,364.1 497.0,371.4" fill="#FFC000"/>
<polygon points="548.1,434.1 560.6,441.3 548.1,448.6" fill="#FFC000"/>
<polygon points="558.1,440.1 570.6,447.3 558.1,454.6" fill="#FFC000"/>
<path d="M150.0 520.5 L206.0 520.5 L232.7 520.5 L255.0 520.5 L270.0 518.0 L294.0 502.4 L318.0 476.4 L344.0 430.0 L366.0 417.0 L390.2 408.2 L412.3 410.0 L433.1 410.5 L450.4 420.0 L466.0 430.0 L475.2 436.3 L475.2 417.3 L488.2 428.3 L500.2 434.3" fill="none" stroke="#FF8000" stroke-width="4.2" stroke-linejoin="round" stroke-linecap="round"/>
<polygon points="145.8,513.2 158.3,520.5 145.8,527.8" fill="#FF8000"/>
<polygon points="201.8,513.2 214.3,520.5 201.8,527.8" fill="#FF8000"/>
<polygon points="228.5,513.2 241.0,520.5 228.5,527.8" fill="#FF8000"/>
<polygon points="250.8,513.2 263.3,520.5 250.8,527.8" fill="#FF8000"/>
<polygon points="265.8,510.8 278.3,518.0 265.8,525.2" fill="#FF8000"/>
<polygon points="289.8,495.1 302.3,502.4 289.8,509.6" fill="#FF8000"/>
<polygon points="313.8,469.1 326.3,476.4 313.8,483.6" fill="#FF8000"/>
<polygon points="339.8,422.8 352.3,430.0 339.8,437.2" fill="#FF8000"/>
<polygon points="361.8,409.8 374.3,417.0 361.8,424.2" fill="#FF8000"/>
<polygon points="386.0,400.9 398.5,408.2 386.0,415.4" fill="#FF8000"/>
<polygon points="408.1,402.8 420.6,410.0 408.1,417.2" fill="#FF8000"/>
<polygon points="428.9,403.2 441.4,410.5 428.9,417.8" fill="#FF8000"/>
<polygon points="446.2,412.8 458.7,420.0 446.2,427.2" fill="#FF8000"/>
<polygon points="461.8,422.8 474.3,430.0 461.8,437.2" fill="#FF8000"/>
<polygon points="471.0,429.1 483.5,436.3 471.0,443.6" fill="#FF8000"/>
<polygon points="471.0,410.1 483.5,417.3 471.0,424.6" fill="#FF8000"/>
<polygon points="484.0,421.1 496.5,428.3 484.0,435.6" fill="#FF8000"/>
<polygon points="496.0,427.1 508.5,434.3 496.0,441.6" fill="#FF8000"/>
<path d="M170.0 520.5 L212.6 520.5 L240.0 520.5 L272.0 518.0 L300.0 484.4 L330.0 433.3 L353.2 413.2 L376.2 399.2 L398.3 391.2 L420.0 392.5 L438.0 394.0 L456.0 400.0 L476.0 409.0 L494.2 420.0 L512.2 438.3 L524.2 442.3 L536.3 448.3" fill="none" stroke="#FF0000" stroke-width="4.2" stroke-linejoin="round" stroke-linecap="round"/>
<polygon points="165.8,513.2 178.3,520.5 165.8,527.8" fill="#FF0000"/>
<polygon points="208.4,513.2 220.9,520.5 208.4,527.8" fill="#FF0000"/>
<polygon points="235.8,513.2 248.3,520.5 235.8,527.8" fill="#FF0000"/>
<polygon points="267.8,510.8 280.3,518.0 267.8,525.2" fill="#FF0000"/>
<polygon points="295.8,477.1 308.3,484.4 295.8,491.6" fill="#FF0000"/>
<polygon points="325.8,426.1 338.3,433.3 325.8,440.6" fill="#FF0000"/>
<polygon points="349.0,405.9 361.5,413.2 349.0,420.4" fill="#FF0000"/>
<polygon points="372.0,391.9 384.5,399.2 372.0,406.4" fill="#FF0000"/>
<polygon points="394.1,383.9 406.6,391.2 394.1,398.4" fill="#FF0000"/>
<polygon points="415.8,385.2 428.3,392.5 415.8,399.8" fill="#FF0000"/>
<polygon points="433.8,386.8 446.3,394.0 433.8,401.2" fill="#FF0000"/>
<polygon points="451.8,392.8 464.3,400.0 451.8,407.2" fill="#FF0000"/>
<polygon points="471.8,401.8 484.3,409.0 471.8,416.2" fill="#FF0000"/>
<polygon points="490.0,412.8 502.5,420.0 490.0,427.2" fill="#FF0000"/>
<polygon points="508.0,431.1 520.5,438.3 508.0,445.6" fill="#FF0000"/>
<polygon points="520.0,435.1 532.5,442.3 520.0,449.6" fill="#FF0000"/>
<polygon points="532.1,441.1 544.6,448.3 532.1,455.6" fill="#FF0000"/>
<path d="M154.0 520.5 L182.6 520.5 L218.0 520.5 L246.0 520.5 L262.0 520.5 L272.0 518.0 L300.0 495.4 L323.0 484.4 L347.2 435.3 L368.2 416.2 L387.2 400.2 L406.3 389.7 L423.3 388.5 L440.3 391.7 L455.1 398.2 L469.1 404.2 L482.2 412.2 L494.2 421.3 L506.2 430.3 L512.2 439.3" fill="none" stroke="#CC0000" stroke-width="4.2" stroke-linejoin="round" stroke-linecap="round"/>
<polygon points="158.2,513.2 145.7,520.5 158.2,527.8" fill="#CC0000"/>
<polygon points="186.8,513.2 174.3,520.5 186.8,527.8" fill="#CC0000"/>
<polygon points="222.2,513.2 209.7,520.5 222.2,527.8" fill="#CC0000"/>
<polygon points="250.2,513.2 237.7,520.5 250.2,527.8" fill="#CC0000"/>
<polygon points="266.2,513.2 253.7,520.5 266.2,527.8" fill="#CC0000"/>
<polygon points="276.2,510.8 263.7,518.0 276.2,525.2" fill="#CC0000"/>
<polygon points="304.2,488.1 291.7,495.4 304.2,502.6" fill="#CC0000"/>
<polygon points="327.2,477.1 314.7,484.4 327.2,491.6" fill="#CC0000"/>
<polygon points="351.4,428.1 338.9,435.3 351.4,442.6" fill="#CC0000"/>
<polygon points="372.4,408.9 359.9,416.2 372.4,423.4" fill="#CC0000"/>
<polygon points="391.4,392.9 378.9,400.2 391.4,407.4" fill="#CC0000"/>
<polygon points="410.5,382.4 398.0,389.7 410.5,396.9" fill="#CC0000"/>
<polygon points="427.5,381.2 415.0,388.5 427.5,395.8" fill="#CC0000"/>
<polygon points="444.5,384.4 432.0,391.7 444.5,398.9" fill="#CC0000"/>
<polygon points="459.3,390.9 446.8,398.2 459.3,405.4" fill="#CC0000"/>
<polygon points="473.3,396.9 460.8,404.2 473.3,411.4" fill="#CC0000"/>
<polygon points="486.4,404.9 473.9,412.2 486.4,419.4" fill="#CC0000"/>
<polygon points="498.4,414.1 485.9,421.3 498.4,428.6" fill="#CC0000"/>
<polygon points="510.4,423.1 497.9,430.3 510.4,437.6" fill="#CC0000"/>
<polygon points="516.4,432.1 503.9,439.3 516.4,446.6" fill="#CC0000"/>
</g>
<clipPath id="cp2"><rect x="146.9" y="0" width="582.1" height="781.5"/></clipPath>
<g clip-path="url(#cp2)">
<g fill="#0000FF"><circle cx="176.0" cy="781.7" r="2.0"/><circle cx="187.2" cy="781.7" r="2.0"/><circle cx="198.4" cy="781.7" r="2.0"/><circle cx="209.6" cy="781.7" r="2.0"/><circle cx="220.8" cy="781.7" r="2.0"/><circle cx="232.0" cy="781.7" r="2.0"/><circle cx="243.2" cy="781.7" r="2.0"/><circle cx="254.4" cy="781.4" r="2.0"/><circle cx="265.6" cy="781.1" r="2.0"/><circle cx="276.8" cy="780.8" r="2.0"/><circle cx="288.0" cy="780.4" r="2.0"/><circle cx="299.2" cy="780.0" r="2.0"/><circle cx="310.4" cy="779.3" r="2.0"/><circle cx="321.5" cy="778.6" r="2.0"/><circle cx="332.6" cy="777.4" r="2.0"/><circle cx="343.6" cy="775.1" r="2.0"/><circle cx="354.6" cy="772.7" r="2.0"/><circle cx="363.4" cy="766.5" r="2.0"/><circle cx="371.2" cy="758.5" r="2.0"/><circle cx="379.0" cy="750.4" r="2.0"/><circle cx="386.7" cy="742.4" r="2.0"/><circle cx="394.5" cy="734.3" r="2.0"/><circle cx="403.1" cy="727.7" r="2.0"/><circle cx="413.9" cy="725.0" r="2.0"/><circle cx="424.2" cy="720.9" r="2.0"/><circle cx="433.8" cy="715.0" r="2.0"/><circle cx="443.3" cy="709.2" r="2.0"/><circle cx="454.0" cy="707.0" r="2.0"/><circle cx="465.1" cy="706.7" r="2.0"/><circle cx="475.7" cy="710.4" r="2.0"/><circle cx="486.4" cy="713.8" r="2.0"/><circle cx="497.4" cy="715.9" r="2.0"/><circle cx="508.4" cy="717.8" r="2.0"/><circle cx="519.5" cy="719.3" r="2.0"/><circle cx="529.8" cy="722.6" r="2.0"/><circle cx="538.6" cy="729.4" r="2.0"/><circle cx="548.6" cy="734.4" r="2.0"/><circle cx="559.2" cy="738.1" r="2.0"/><circle cx="569.8" cy="741.6" r="2.0"/><circle cx="580.7" cy="744.2" r="2.0"/><circle cx="591.7" cy="746.2" r="2.0"/><circle cx="602.7" cy="748.0" r="2.0"/><circle cx="613.6" cy="750.7" r="2.0"/><circle cx="624.5" cy="753.4" r="2.0"/><circle cx="635.6" cy="754.9" r="2.0"/></g>
<polygon points="180.2,774.5 167.7,781.7 180.2,789.0" fill="#0000FF"/>
<polygon points="213.2,774.5 200.7,781.7 213.2,789.0" fill="#0000FF"/>
<polygon points="245.7,774.5 233.2,781.7 245.7,789.0" fill="#0000FF"/>
<polygon points="275.7,773.8 263.2,781.0 275.7,788.2" fill="#0000FF"/>
<polygon points="304.2,772.8 291.7,780.0 304.2,787.2" fill="#0000FF"/>
<polygon points="334.2,770.8 321.7,778.0 334.2,785.2" fill="#0000FF"/>
<polygon points="362.2,764.8 349.7,772.0 362.2,779.2" fill="#0000FF"/>
<polygon points="381.3,745.1 368.8,752.4 381.3,759.6" fill="#0000FF"/>
<polygon points="404.3,721.1 391.8,728.4 404.3,735.6" fill="#0000FF"/>
<polygon points="424.4,716.1 411.9,723.4 424.4,730.6" fill="#0000FF"/>
<polygon points="450.4,700.1 437.9,707.4 450.4,714.6" fill="#0000FF"/>
<polygon points="468.5,699.1 456.0,706.4 468.5,713.6" fill="#0000FF"/>
<polygon points="488.5,706.1 476.0,713.4 488.5,720.6" fill="#0000FF"/>
<polygon points="509.7,710.1 497.2,717.4 509.7,724.6" fill="#0000FF"/>
<polygon points="531.5,713.1 519.0,720.4 531.5,727.6" fill="#0000FF"/>
<polygon points="538.3,719.1 525.8,726.4 538.3,733.6" fill="#0000FF"/>
<polygon points="547.3,725.1 534.8,732.4 547.3,739.6" fill="#0000FF"/>
<polygon points="561.4,730.1 548.9,737.4 561.4,744.6" fill="#0000FF"/>
<polygon points="576.4,735.1 563.9,742.4 576.4,749.6" fill="#0000FF"/>
<polygon points="590.4,738.1 577.9,745.4 590.4,752.6" fill="#0000FF"/>
<polygon points="604.5,740.1 592.0,747.4 604.5,754.6" fill="#0000FF"/>
<polygon points="612.5,742.1 600.0,749.4 612.5,756.6" fill="#0000FF"/>
<polygon points="620.5,744.1 608.0,751.4 620.5,758.6" fill="#0000FF"/>
<polygon points="628.5,746.1 616.0,753.4 628.5,760.6" fill="#0000FF"/>
<polygon points="636.5,747.1 624.0,754.4 636.5,761.6" fill="#0000FF"/>
<polygon points="643.5,748.1 631.0,755.4 643.5,762.6" fill="#0000FF"/>
<polygon points="649.5,749.1 637.0,756.4 649.5,763.6" fill="#0000FF"/>
<path d="M147.5 781.7 L182.6 781.7 L220.0 781.7 L255.0 781.7 L290.0 781.0 L325.0 780.5 L355.0 779.5 L376.0 777.5 L397.1 745.4 L424.2 735.4 L448.2 734.4 L470.3 737.0 L487.5 744.4 L505.5 750.4 L523.0 755.0 L540.1 756.4 L554.2 758.5 L568.2 760.5 L584.2 763.5 L598.3 764.5 L610.3 766.5 L620.3 767.5 L630.3 767.5 L638.3 767.5 L646.4 768.5" fill="none" stroke="#00FF00" stroke-width="4.2" stroke-linejoin="round" stroke-linecap="round"/>
<polygon points="151.7,774.5 139.2,781.7 151.7,789.0" fill="#00FF00"/>
<polygon points="186.8,774.5 174.3,781.7 186.8,789.0" fill="#00FF00"/>
<polygon points="224.2,774.5 211.7,781.7 224.2,789.0" fill="#00FF00"/>
<polygon points="259.2,774.5 246.7,781.7 259.2,789.0" fill="#00FF00"/>
<polygon points="294.2,773.8 281.7,781.0 294.2,788.2" fill="#00FF00"/>
<polygon points="329.2,773.2 316.7,780.5 329.2,787.8" fill="#00FF00"/>
<polygon points="359.2,772.2 346.7,779.5 359.2,786.8" fill="#00FF00"/>
<polygon points="380.2,770.2 367.7,777.5 380.2,784.8" fill="#00FF00"/>
<polygon points="401.3,738.1 388.8,745.4 401.3,752.6" fill="#00FF00"/>
<polygon points="428.4,728.1 415.9,735.4 428.4,742.6" fill="#00FF00"/>
<polygon points="452.4,727.1 439.9,734.4 452.4,741.6" fill="#00FF00"/>
<polygon points="474.5,729.8 462.0,737.0 474.5,744.2" fill="#00FF00"/>
<polygon points="491.7,737.1 479.2,744.4 491.7,751.6" fill="#00FF00"/>
<polygon points="509.7,743.1 497.2,750.4 509.7,757.6" fill="#00FF00"/>
<polygon points="527.2,747.8 514.7,755.0 527.2,762.2" fill="#00FF00"/>
<polygon points="544.3,749.1 531.8,756.4 544.3,763.6" fill="#00FF00"/>
<polygon points="558.4,751.2 545.9,758.5 558.4,765.8" fill="#00FF00"/>
<polygon points="572.4,753.2 559.9,760.5 572.4,767.8" fill="#00FF00"/>
<polygon points="588.4,756.2 575.9,763.5 588.4,770.8" fill="#00FF00"/>
<polygon points="602.5,757.2 590.0,764.5 602.5,771.8" fill="#00FF00"/>
<polygon points="614.5,759.2 602.0,766.5 614.5,773.8" fill="#00FF00"/>
<polygon points="624.5,760.2 612.0,767.5 624.5,774.8" fill="#00FF00"/>
<polygon points="634.5,760.2 622.0,767.5 634.5,774.8" fill="#00FF00"/>
<polygon points="642.5,760.2 630.0,767.5 642.5,774.8" fill="#00FF00"/>
<polygon points="650.6,761.2 638.1,768.5 650.6,775.8" fill="#00FF00"/>
<path d="M169.0 781.7 L201.0 781.7 L235.0 781.7 L262.7 781.0 L292.8 780.0 L325.0 778.0 L360.0 775.0 L392.0 772.5 L412.0 772.5 L433.2 773.5 L451.2 706.4 L468.3 695.3 L472.3 634.2 L482.6 683.3 L497.6 644.2 L511.2 658.3 L525.2 666.0 L536.1 673.3 L547.2 683.3 L556.2 693.3 L563.2 700.3 L570.2 708.4 L577.2 716.4 L584.2 723.4 L592.2 727.4 L600.3 728.4" fill="none" stroke="#FFC000" stroke-width="4.2" stroke-linejoin="round" stroke-linecap="round"/>
<polygon points="164.8,774.5 177.3,781.7 164.8,789.0" fill="#FFC000"/>
<polygon points="196.8,774.5 209.3,781.7 196.8,789.0" fill="#FFC000"/>
<polygon points="230.8,774.5 243.3,781.7 230.8,789.0" fill="#FFC000"/>
<polygon points="258.5,773.8 271.0,781.0 258.5,788.2" fill="#FFC000"/>
<polygon points="288.6,772.8 301.1,780.0 288.6,787.2" fill="#FFC000"/>
<polygon points="320.8,770.8 333.3,778.0 320.8,785.2" fill="#FFC000"/>
<polygon points="355.8,767.8 368.3,775.0 355.8,782.2" fill="#FFC000"/>
<polygon points="387.8,765.2 400.3,772.5 387.8,779.8" fill="#FFC000"/>
<polygon points="407.8,765.2 420.3,772.5 407.8,779.8" fill="#FFC000"/>
<polygon points="429.0,766.2 441.5,773.5 429.0,780.8" fill="#FFC000"/>
<polygon points="447.0,699.1 459.5,706.4 447.0,713.6" fill="#FFC000"/>
<polygon points="464.1,688.0 476.6,695.3 464.1,702.5" fill="#FFC000"/>
<polygon points="468.1,627.0 480.6,634.2 468.1,641.5" fill="#FFC000"/>
<polygon points="478.4,676.0 490.9,683.3 478.4,690.5" fill="#FFC000"/>
<polygon points="493.4,637.0 505.9,644.2 493.4,651.5" fill="#FFC000"/>
<polygon points="507.0,651.0 519.5,658.3 507.0,665.5" fill="#FFC000"/>
<polygon points="521.0,658.8 533.5,666.0 521.0,673.2" fill="#FFC000"/>
<polygon points="531.9,666.0 544.4,673.3 531.9,680.5" fill="#FFC000"/>
<polygon points="543.0,676.0 555.5,683.3 543.0,690.5" fill="#FFC000"/>
<polygon points="552.0,686.0 564.5,693.3 552.0,700.5" fill="#FFC000"/>
<polygon points="559.0,693.0 571.5,700.3 559.0,707.5" fill="#FFC000"/>
<polygon points="566.0,701.1 578.5,708.4 566.0,715.6" fill="#FFC000"/>
<polygon points="573.0,709.1 585.5,716.4 573.0,723.6" fill="#FFC000"/>
<polygon points="580.0,716.1 592.5,723.4 580.0,730.6" fill="#FFC000"/>
<polygon points="588.0,720.1 600.5,727.4 588.0,734.6" fill="#FFC000"/>
<polygon points="596.1,721.1 608.6,728.4 596.1,735.6" fill="#FFC000"/>
<path d="M154.0 781.7 L190.0 781.7 L226.4 781.7 L262.0 781.0 L290.0 780.0 L315.0 777.5 L342.0 775.5 L368.0 773.5 L394.0 772.0 L416.2 771.5 L436.2 724.4 L457.3 660.3 L478.6 638.7 L497.7 597.1 L510.7 619.2 L525.2 634.2 L536.1 648.2 L547.2 658.3 L555.2 672.3 L565.2 684.3 L573.2 692.3 L579.2 700.3 L585.2 709.4 L590.2 718.4" fill="none" stroke="#FF6000" stroke-width="4.2" stroke-linejoin="round" stroke-linecap="round"/>
<polygon points="158.2,774.5 145.7,781.7 158.2,789.0" fill="#FF6000"/>
<polygon points="194.2,774.5 181.7,781.7 194.2,789.0" fill="#FF6000"/>
<polygon points="230.6,774.5 218.1,781.7 230.6,789.0" fill="#FF6000"/>
<polygon points="266.2,773.8 253.7,781.0 266.2,788.2" fill="#FF6000"/>
<polygon points="294.2,772.8 281.7,780.0 294.2,787.2" fill="#FF6000"/>
<polygon points="319.2,770.2 306.7,777.5 319.2,784.8" fill="#FF6000"/>
<polygon points="346.2,768.2 333.7,775.5 346.2,782.8" fill="#FF6000"/>
<polygon points="372.2,766.2 359.7,773.5 372.2,780.8" fill="#FF6000"/>
<polygon points="398.2,764.8 385.7,772.0 398.2,779.2" fill="#FF6000"/>
<polygon points="420.4,764.2 407.9,771.5 420.4,778.8" fill="#FF6000"/>
<polygon points="440.4,717.1 427.9,724.4 440.4,731.6" fill="#FF6000"/>
<polygon points="461.5,653.0 449.0,660.3 461.5,667.5" fill="#FF6000"/>
<polygon points="482.8,631.5 470.3,638.7 482.8,646.0" fill="#FF6000"/>
<polygon points="501.9,589.9 489.4,597.1 501.9,604.4" fill="#FF6000"/>
<polygon points="514.9,612.0 502.4,619.2 514.9,626.5" fill="#FF6000"/>
<polygon points="529.4,627.0 516.9,634.2 529.4,641.5" fill="#FF6000"/>
<polygon points="540.3,641.0 527.8,648.2 540.3,655.5" fill="#FF6000"/>
<polygon points="551.4,651.0 538.9,658.3 551.4,665.5" fill="#FF6000"/>
<polygon points="559.4,665.0 546.9,672.3 559.4,679.5" fill="#FF6000"/>
<polygon points="569.4,677.0 556.9,684.3 569.4,691.5" fill="#FF6000"/>
<polygon points="577.4,685.0 564.9,692.3 577.4,699.5" fill="#FF6000"/>
<polygon points="583.4,693.0 570.9,700.3 583.4,707.5" fill="#FF6000"/>
<polygon points="589.4,702.1 576.9,709.4 589.4,716.6" fill="#FF6000"/>
<polygon points="594.4,711.1 581.9,718.4 594.4,725.6" fill="#FF6000"/>
<g fill="#CC0000"><circle cx="174.0" cy="781.7" r="2.0"/><circle cx="185.2" cy="781.7" r="2.0"/><circle cx="196.4" cy="781.7" r="2.0"/><circle cx="207.6" cy="781.7" r="2.0"/><circle cx="218.8" cy="781.6" r="2.0"/><circle cx="230.0" cy="781.4" r="2.0"/><circle cx="241.2" cy="781.2" r="2.0"/><circle cx="252.4" cy="780.9" r="2.0"/><circle cx="263.6" cy="780.3" r="2.0"/><circle cx="274.8" cy="779.7" r="2.0"/><circle cx="285.9" cy="779.1" r="2.0"/><circle cx="297.1" cy="778.0" r="2.0"/><circle cx="308.2" cy="776.7" r="2.0"/><circle cx="319.3" cy="775.5" r="2.0"/><circle cx="330.5" cy="774.5" r="2.0"/><circle cx="341.7" cy="773.5" r="2.0"/><circle cx="352.8" cy="772.7" r="2.0"/><circle cx="364.0" cy="772.0" r="2.0"/><circle cx="375.2" cy="771.4" r="2.0"/><circle cx="386.4" cy="771.0" r="2.0"/><circle cx="397.6" cy="770.6" r="2.0"/><circle cx="406.2" cy="763.9" r="2.0"/><circle cx="414.5" cy="756.4" r="2.0"/><circle cx="422.7" cy="748.8" r="2.0"/><circle cx="425.7" cy="738.4" r="2.0"/><circle cx="427.5" cy="727.3" r="2.0"/><circle cx="429.4" cy="716.3" r="2.0"/><circle cx="431.2" cy="705.2" r="2.0"/><circle cx="433.1" cy="694.2" r="2.0"/><circle cx="434.9" cy="683.1" r="2.0"/><circle cx="436.7" cy="672.1" r="2.0"/><circle cx="438.6" cy="661.0" r="2.0"/><circle cx="440.4" cy="650.0" r="2.0"/><circle cx="442.3" cy="638.9" r="2.0"/><circle cx="444.1" cy="627.9" r="2.0"/><circle cx="445.9" cy="616.8" r="2.0"/><circle cx="448.5" cy="606.0" r="2.0"/><circle cx="452.7" cy="595.6" r="2.0"/><circle cx="456.8" cy="585.2" r="2.0"/><circle cx="461.0" cy="574.8" r="2.0"/><circle cx="465.2" cy="564.4" r="2.0"/><circle cx="476.0" cy="562.0" r="2.0"/><circle cx="486.2" cy="558.1" r="2.0"/><circle cx="495.0" cy="551.2" r="2.0"/><circle cx="502.7" cy="550.7" r="2.0"/><circle cx="509.0" cy="560.0" r="2.0"/><circle cx="515.3" cy="569.3" r="2.0"/><circle cx="521.4" cy="578.7" r="2.0"/><circle cx="527.5" cy="588.1" r="2.0"/><circle cx="532.6" cy="598.0" r="2.0"/><circle cx="537.1" cy="608.2" r="2.0"/><circle cx="541.5" cy="618.5" r="2.0"/><circle cx="547.8" cy="627.6" r="2.0"/><circle cx="555.1" cy="636.1" r="2.0"/><circle cx="562.7" cy="644.4" r="2.0"/><circle cx="569.4" cy="653.3" r="2.0"/><circle cx="575.8" cy="662.5" r="2.0"/><circle cx="582.3" cy="671.6" r="2.0"/><circle cx="590.0" cy="679.7" r="2.0"/></g>
<polygon points="169.8,774.5 182.3,781.7 169.8,789.0" fill="#CC0000"/>
<polygon points="209.8,774.5 222.3,781.7 209.8,789.0" fill="#CC0000"/>
<polygon points="245.8,773.8 258.3,781.0 245.8,788.2" fill="#CC0000"/>
<polygon points="283.6,771.8 296.1,779.0 283.6,786.2" fill="#CC0000"/>
<polygon points="314.8,768.2 327.3,775.5 314.8,782.8" fill="#CC0000"/>
<polygon points="343.8,765.8 356.3,773.0 343.8,780.2" fill="#CC0000"/>
<polygon points="368.9,764.2 381.4,771.5 368.9,778.8" fill="#CC0000"/>
<polygon points="394.9,763.2 407.4,770.5 394.9,777.8" fill="#CC0000"/>
<polygon points="420.0,740.1 432.5,747.4 420.0,754.6" fill="#CC0000"/>
<polygon points="443.0,602.0 455.5,609.2 443.0,616.5" fill="#CC0000"/>
<polygon points="461.1,556.9 473.6,564.1 461.1,571.4" fill="#CC0000"/>
<polygon points="479.0,553.2 491.5,560.5 479.0,567.8" fill="#CC0000"/>
<polygon points="496.0,539.8 508.5,547.0 496.0,554.2" fill="#CC0000"/>
<polygon points="511.0,561.9 523.5,569.1 511.0,576.4" fill="#CC0000"/>
<polygon points="525.9,584.9 538.4,592.1 525.9,599.4" fill="#CC0000"/>
<polygon points="538.9,615.0 551.4,622.2 538.9,629.5" fill="#CC0000"/>
<polygon points="551.0,629.0 563.5,636.2 551.0,643.5" fill="#CC0000"/>
<polygon points="561.0,640.0 573.5,647.2 561.0,654.5" fill="#CC0000"/>
<polygon points="570.0,653.0 582.5,660.3 570.0,667.5" fill="#CC0000"/>
<polygon points="577.0,663.0 589.5,670.3 577.0,677.5" fill="#CC0000"/>
<polygon points="583.0,670.0 595.5,677.3 583.0,684.5" fill="#CC0000"/>
<polygon points="589.0,675.0 601.5,682.3 589.0,689.5" fill="#CC0000"/>
</g>
<clipPath id="cp3"><rect x="146.9" y="0" width="582.1" height="1042.3"/></clipPath>
<g clip-path="url(#cp3)">
<path d="M184.0 1042.3 L226.0 1042.3 L262.0 1042.3 L300.0 1042.3 L335.0 1041.5 L358.0 1039.0 L390.1 1029.5 L418.2 1000.4 L439.2 980.4 L465.3 957.5 L489.3 978.4 L510.4 998.0 L528.1 997.8 L544.2 1007.4 L557.2 1014.4 L572.2 1019.5 L586.3 1022.5 L603.3 1027.5 L617.3 1027.5" fill="none" stroke="#0000FF" stroke-width="4.2" stroke-linejoin="round" stroke-linecap="round"/>
<polygon points="179.8,1035.0 192.3,1042.3 179.8,1049.5" fill="#0000FF"/>
<polygon points="221.8,1035.0 234.3,1042.3 221.8,1049.5" fill="#0000FF"/>
<polygon points="257.8,1035.0 270.3,1042.3 257.8,1049.5" fill="#0000FF"/>
<polygon points="295.8,1035.0 308.3,1042.3 295.8,1049.5" fill="#0000FF"/>
<polygon points="330.8,1034.2 343.3,1041.5 330.8,1048.8" fill="#0000FF"/>
<polygon points="353.8,1031.8 366.3,1039.0 353.8,1046.2" fill="#0000FF"/>
<polygon points="385.9,1022.2 398.4,1029.5 385.9,1036.8" fill="#0000FF"/>
<polygon points="414.0,993.1 426.5,1000.4 414.0,1007.6" fill="#0000FF"/>
<polygon points="435.0,973.1 447.5,980.4 435.0,987.6" fill="#0000FF"/>
<polygon points="461.1,950.2 473.6,957.5 461.1,964.8" fill="#0000FF"/>
<polygon points="485.1,971.1 497.6,978.4 485.1,985.6" fill="#0000FF"/>
<polygon points="506.2,990.8 518.7,998.0 506.2,1005.2" fill="#0000FF"/>
<polygon points="523.9,990.5 536.4,997.8 523.9,1005.0" fill="#0000FF"/>
<polygon points="540.0,1000.1 552.5,1007.4 540.0,1014.6" fill="#0000FF"/>
<polygon points="553.0,1007.1 565.5,1014.4 553.0,1021.6" fill="#0000FF"/>
<polygon points="568.0,1012.2 580.5,1019.5 568.0,1026.8" fill="#0000FF"/>
<polygon points="582.1,1015.2 594.6,1022.5 582.1,1029.8" fill="#0000FF"/>
<polygon points="599.1,1020.2 611.6,1027.5 599.1,1034.8" fill="#0000FF"/>
<polygon points="613.1,1020.2 625.6,1027.5 613.1,1034.8" fill="#0000FF"/>
<g fill="#00B0F0"><circle cx="360.0" cy="1041.0" r="2.0"/><circle cx="370.9" cy="1038.3" r="2.0"/><circle cx="381.5" cy="1035.0" r="2.0"/><circle cx="390.9" cy="1028.9" r="2.0"/><circle cx="400.2" cy="1022.7" r="2.0"/><circle cx="409.3" cy="1016.2" r="2.0"/><circle cx="418.4" cy="1009.6" r="2.0"/><circle cx="427.0" cy="1002.6" r="2.0"/><circle cx="435.0" cy="994.6" r="2.0"/><circle cx="442.9" cy="986.7" r="2.0"/><circle cx="452.4" cy="981.5" r="2.0"/><circle cx="463.1" cy="978.2" r="2.0"/><circle cx="473.7" cy="976.1" r="2.0"/><circle cx="483.8" cy="981.0" r="2.0"/><circle cx="493.9" cy="985.9" r="2.0"/><circle cx="504.1" cy="990.4" r="2.0"/><circle cx="514.3" cy="995.1" r="2.0"/><circle cx="524.2" cy="1000.3" r="2.0"/><circle cx="534.6" cy="1003.9" r="2.0"/><circle cx="545.8" cy="1005.0" r="2.0"/><circle cx="556.8" cy="1006.8" r="2.0"/><circle cx="567.8" cy="1009.1" r="2.0"/><circle cx="578.6" cy="1012.0" r="2.0"/><circle cx="589.3" cy="1015.2" r="2.0"/></g>
<polygon points="364.2,1033.8 351.7,1041.0 364.2,1048.2" fill="#00B0F0"/>
<polygon points="384.2,1028.8 371.7,1036.0 384.2,1043.2" fill="#00B0F0"/>
<polygon points="403.3,1016.2 390.8,1023.5 403.3,1030.8" fill="#00B0F0"/>
<polygon points="428.4,998.1 415.9,1005.4 428.4,1012.6" fill="#00B0F0"/>
<polygon points="450.4,976.1 437.9,983.4 450.4,990.6" fill="#00B0F0"/>
<polygon points="476.5,968.1 464.0,975.4 476.5,982.6" fill="#00B0F0"/>
<polygon points="497.0,978.1 484.5,985.4 497.0,992.6" fill="#00B0F0"/>
<polygon points="516.4,986.8 503.9,994.0 516.4,1001.2" fill="#00B0F0"/>
<polygon points="534.3,996.1 521.8,1003.4 534.3,1010.6" fill="#00B0F0"/>
<polygon points="553.4,998.1 540.9,1005.4 553.4,1012.6" fill="#00B0F0"/>
<polygon points="569.4,1001.1 556.9,1008.4 569.4,1015.6" fill="#00B0F0"/>
<polygon points="584.4,1005.1 571.9,1012.4 584.4,1019.6" fill="#00B0F0"/>
<polygon points="594.5,1008.2 582.0,1015.5 594.5,1022.8" fill="#00B0F0"/>
<polygon points="600.5,1012.2 588.0,1019.5 600.5,1026.8" fill="#00B0F0"/>
<g fill="#00FF00"><circle cx="150.0" cy="1042.3" r="2.0"/><circle cx="161.2" cy="1042.3" r="2.0"/><circle cx="172.4" cy="1042.3" r="2.0"/><circle cx="183.6" cy="1042.3" r="2.0"/><circle cx="194.8" cy="1042.3" r="2.0"/><circle cx="206.0" cy="1042.3" r="2.0"/><circle cx="217.2" cy="1042.3" r="2.0"/><circle cx="228.4" cy="1042.3" r="2.0"/><circle cx="239.6" cy="1042.3" r="2.0"/><circle cx="250.8" cy="1042.3" r="2.0"/><circle cx="262.0" cy="1042.3" r="2.0"/><circle cx="273.2" cy="1042.3" r="2.0"/><circle cx="284.4" cy="1042.3" r="2.0"/><circle cx="295.6" cy="1042.0" r="2.0"/><circle cx="306.8" cy="1041.5" r="2.0"/><circle cx="318.0" cy="1041.0" r="2.0"/><circle cx="329.2" cy="1040.5" r="2.0"/><circle cx="340.3" cy="1039.9" r="2.0"/><circle cx="351.0" cy="1036.3" r="2.0"/><circle cx="356.6" cy="1027.0" r="2.0"/><circle cx="361.7" cy="1017.0" r="2.0"/><circle cx="367.3" cy="1007.4" r="2.0"/><circle cx="373.4" cy="998.0" r="2.0"/><circle cx="382.3" cy="995.5" r="2.0"/><circle cx="388.4" cy="1003.3" r="2.0"/><circle cx="391.9" cy="1013.9" r="2.0"/><circle cx="395.5" cy="1024.6" r="2.0"/><circle cx="399.0" cy="1035.2" r="2.0"/><circle cx="400.8" cy="1024.8" r="2.0"/><circle cx="402.6" cy="1013.7" r="2.0"/><circle cx="404.4" cy="1002.7" r="2.0"/><circle cx="406.2" cy="991.6" r="2.0"/><circle cx="408.0" cy="980.5" r="2.0"/><circle cx="418.2" cy="978.4" r="2.0"/><circle cx="428.4" cy="977.2" r="2.0"/><circle cx="430.4" cy="966.2" r="2.0"/><circle cx="432.3" cy="955.2" r="2.0"/><circle cx="434.3" cy="944.2" r="2.0"/><circle cx="436.3" cy="933.1" r="2.0"/><circle cx="439.8" cy="922.5" r="2.0"/><circle cx="443.5" cy="912.1" r="2.0"/><circle cx="451.3" cy="906.1" r="2.0"/><circle cx="454.2" cy="895.3" r="2.0"/><circle cx="463.5" cy="894.8" r="2.0"/><circle cx="472.7" cy="901.1" r="2.0"/><circle cx="482.2" cy="907.0" r="2.0"/><circle cx="491.8" cy="912.8" r="2.0"/><circle cx="501.4" cy="918.6" r="2.0"/><circle cx="511.0" cy="924.4" r="2.0"/><circle cx="514.2" cy="934.7" r="2.0"/><circle cx="516.9" cy="945.6" r="2.0"/></g>
<polygon points="145.8,1035.0 158.3,1042.3 145.8,1049.5" fill="#00FF00"/>
<polygon points="223.5,1035.0 236.0,1042.3 223.5,1049.5" fill="#00FF00"/>
<polygon points="285.8,1035.0 298.3,1042.3 285.8,1049.5" fill="#00FF00"/>
<polygon points="335.8,1032.8 348.3,1040.0 335.8,1047.2" fill="#00FF00"/>
<polygon points="347.8,1028.8 360.3,1036.0 347.8,1043.2" fill="#00FF00"/>
<polygon points="359.8,1005.1 372.3,1012.4 359.8,1019.6" fill="#00FF00"/>
<polygon points="371.8,986.8 384.3,994.0 371.8,1001.2" fill="#00FF00"/>
<polygon points="381.9,989.1 394.4,996.4 381.9,1003.6" fill="#00FF00"/>
<polygon points="394.9,1028.2 407.4,1035.5 394.9,1042.8" fill="#00FF00"/>
<polygon points="404.0,972.1 416.5,979.4 404.0,986.6" fill="#00FF00"/>
<polygon points="412.0,971.1 424.5,978.4 412.0,985.6" fill="#00FF00"/>
<polygon points="424.0,971.1 436.5,978.4 424.0,985.6" fill="#00FF00"/>
<polygon points="432.0,926.0 444.5,933.3 432.0,940.5" fill="#00FF00"/>
<polygon points="439.0,905.0 451.5,912.2 439.0,919.5" fill="#00FF00"/>
<polygon points="446.0,903.0 458.5,910.2 446.0,917.5" fill="#00FF00"/>
<polygon points="450.0,888.0 462.5,895.2 450.0,902.5" fill="#00FF00"/>
<polygon points="457.1,885.0 469.6,892.2 457.1,899.5" fill="#00FF00"/>
<polygon points="460.8,889.2 473.3,896.5 460.8,903.8" fill="#00FF00"/>
<polygon points="507.8,917.8 520.3,925.0 507.8,932.2" fill="#00FF00"/>
<polygon points="512.3,937.8 524.8,945.0 512.3,952.2" fill="#00FF00"/>
<polygon points="516.8,945.0 529.3,952.3 516.8,959.5" fill="#00FF00"/>
<path d="M165.0 1042.3 L210.0 1042.3 L245.0 1042.3 L288.0 1042.3 L325.0 1042.3 L350.0 1041.5 L366.1 1039.0 L393.1 975.4 L413.2 970.4 L433.2 918.3 L451.2 931.3 L467.3 915.3 L474.3 905.7 L482.8 893.7 L496.2 904.2 L510.4 914.2 L524.8 921.3 L535.2 928.3 L546.2 943.3 L555.2 953.3 L563.2 964.3 L571.2 971.4" fill="none" stroke="#FFC000" stroke-width="4.2" stroke-linejoin="round" stroke-linecap="round"/>
<polygon points="160.8,1035.0 173.3,1042.3 160.8,1049.5" fill="#FFC000"/>
<polygon points="205.8,1035.0 218.3,1042.3 205.8,1049.5" fill="#FFC000"/>
<polygon points="240.8,1035.0 253.3,1042.3 240.8,1049.5" fill="#FFC000"/>
<polygon points="283.8,1035.0 296.3,1042.3 283.8,1049.5" fill="#FFC000"/>
<polygon points="320.8,1035.0 333.3,1042.3 320.8,1049.5" fill="#FFC000"/>
<polygon points="345.8,1034.2 358.3,1041.5 345.8,1048.8" fill="#FFC000"/>
<polygon points="361.9,1031.8 374.4,1039.0 361.9,1046.2" fill="#FFC000"/>
<polygon points="388.9,968.1 401.4,975.4 388.9,982.6" fill="#FFC000"/>
<polygon points="409.0,963.1 421.5,970.4 409.0,977.6" fill="#FFC000"/>
<polygon points="429.0,911.0 441.5,918.3 429.0,925.5" fill="#FFC000"/>
<polygon points="447.0,924.0 459.5,931.3 447.0,938.5" fill="#FFC000"/>
<polygon points="463.1,908.0 475.6,915.3 463.1,922.5" fill="#FFC000"/>
<polygon points="470.1,898.5 482.6,905.7 470.1,913.0" fill="#FFC000"/>
<polygon points="478.6,886.5 491.1,893.7 478.6,901.0" fill="#FFC000"/>
<polygon points="492.0,897.0 504.5,904.2 492.0,911.5" fill="#FFC000"/>
<polygon points="506.2,907.0 518.7,914.2 506.2,921.5" fill="#FFC000"/>
<polygon points="520.6,914.0 533.1,921.3 520.6,928.5" fill="#FFC000"/>
<polygon points="531.0,921.0 543.5,928.3 531.0,935.5" fill="#FFC000"/>
<polygon points="542.0,936.0 554.5,943.3 542.0,950.5" fill="#FFC000"/>
<polygon points="551.0,946.0 563.5,953.3 551.0,960.5" fill="#FFC000"/>
<polygon points="559.0,957.0 571.5,964.3 559.0,971.5" fill="#FFC000"/>
<polygon points="567.0,964.1 579.5,971.4 567.0,978.6" fill="#FFC000"/>
<g fill="#FF8000"><circle cx="202.6" cy="1041.0" r="2.0"/><circle cx="213.8" cy="1040.8" r="2.0"/><circle cx="225.0" cy="1040.6" r="2.0"/><circle cx="236.2" cy="1040.5" r="2.0"/><circle cx="247.4" cy="1040.3" r="2.0"/><circle cx="258.6" cy="1040.2" r="2.0"/><circle cx="269.8" cy="1040.1" r="2.0"/><circle cx="281.0" cy="1039.9" r="2.0"/><circle cx="292.2" cy="1039.8" r="2.0"/><circle cx="303.4" cy="1039.6" r="2.0"/><circle cx="314.6" cy="1039.3" r="2.0"/><circle cx="325.8" cy="1038.8" r="2.0"/><circle cx="337.0" cy="1038.3" r="2.0"/><circle cx="346.9" cy="1035.5" r="2.0"/><circle cx="353.6" cy="1026.5" r="2.0"/><circle cx="360.2" cy="1017.5" r="2.0"/><circle cx="365.6" cy="1007.8" r="2.0"/><circle cx="368.9" cy="997.1" r="2.0"/><circle cx="371.5" cy="986.2" r="2.0"/><circle cx="374.1" cy="975.3" r="2.0"/><circle cx="376.7" cy="964.4" r="2.0"/><circle cx="379.3" cy="953.5" r="2.0"/><circle cx="385.8" cy="944.9" r="2.0"/><circle cx="394.0" cy="937.2" r="2.0"/><circle cx="401.4" cy="928.9" r="2.0"/><circle cx="408.4" cy="920.1" r="2.0"/><circle cx="414.5" cy="910.8" r="2.0"/><circle cx="419.5" cy="900.7" r="2.0"/><circle cx="424.4" cy="890.7" r="2.0"/><circle cx="433.3" cy="889.0" r="2.0"/><circle cx="443.9" cy="887.9" r="2.0"/><circle cx="450.5" cy="880.1" r="2.0"/><circle cx="454.5" cy="869.6" r="2.0"/><circle cx="458.5" cy="859.2" r="2.0"/><circle cx="462.5" cy="849.5" r="2.0"/><circle cx="467.9" cy="859.3" r="2.0"/><circle cx="475.4" cy="867.2" r="2.0"/><circle cx="484.6" cy="873.7" r="2.0"/><circle cx="493.7" cy="880.1" r="2.0"/><circle cx="501.4" cy="887.8" r="2.0"/><circle cx="505.4" cy="898.2" r="2.0"/><circle cx="509.3" cy="908.7" r="2.0"/><circle cx="513.2" cy="919.2" r="2.0"/><circle cx="516.8" cy="929.8" r="2.0"/><circle cx="521.2" cy="940.1" r="2.0"/><circle cx="527.1" cy="949.5" r="2.0"/></g>
<polygon points="198.4,1033.8 210.9,1041.0 198.4,1048.2" fill="#FF8000"/>
<polygon points="229.8,1033.2 242.3,1040.5 229.8,1047.8" fill="#FF8000"/>
<polygon points="272.3,1032.8 284.8,1040.0 272.3,1047.2" fill="#FF8000"/>
<polygon points="305.8,1032.2 318.3,1039.5 305.8,1046.8" fill="#FF8000"/>
<polygon points="340.8,1030.8 353.3,1038.0 340.8,1045.2" fill="#FF8000"/>
<polygon points="359.8,1005.1 372.3,1012.4 359.8,1019.6" fill="#FF8000"/>
<polygon points="363.9,993.1 376.4,1000.4 363.9,1007.6" fill="#FF8000"/>
<polygon points="375.9,943.0 388.4,950.3 375.9,957.5" fill="#FF8000"/>
<polygon points="392.9,927.0 405.4,934.3 392.9,941.5" fill="#FF8000"/>
<polygon points="408.0,908.0 420.5,915.3 408.0,922.5" fill="#FF8000"/>
<polygon points="422.0,880.0 434.5,887.2 422.0,894.5" fill="#FF8000"/>
<polygon points="434.0,883.0 446.5,890.2 434.0,897.5" fill="#FF8000"/>
<polygon points="444.0,879.0 456.5,886.2 444.0,893.5" fill="#FF8000"/>
<polygon points="458.1,841.9 470.6,849.1 458.1,856.4" fill="#FF8000"/>
<polygon points="466.0,856.2 478.5,863.5 466.0,870.8" fill="#FF8000"/>
<polygon points="487.5,871.5 500.0,878.7 487.5,886.0" fill="#FF8000"/>
<polygon points="496.0,877.5 508.5,884.7 496.0,892.0" fill="#FF8000"/>
<polygon points="503.1,896.0 515.6,903.2 503.1,910.5" fill="#FF8000"/>
<polygon points="509.1,912.4 521.6,919.6 509.1,926.9" fill="#FF8000"/>
<polygon points="514.1,927.0 526.6,934.3 514.1,941.5" fill="#FF8000"/>
<polygon points="518.1,935.0 530.6,942.3 518.1,949.5" fill="#FF8000"/>
<polygon points="522.3,941.0 534.8,948.3 522.3,955.5" fill="#FF8000"/>
<polygon points="524.9,946.0 537.4,953.3 524.9,960.5" fill="#FF8000"/>
<g fill="#FF0000"><circle cx="355.0" cy="1040.0" r="2.0"/><circle cx="359.2" cy="1029.6" r="2.0"/><circle cx="363.4" cy="1019.2" r="2.0"/><circle cx="367.6" cy="1008.9" r="2.0"/><circle cx="371.8" cy="998.5" r="2.0"/><circle cx="376.0" cy="988.1" r="2.0"/><circle cx="380.3" cy="977.7" r="2.0"/><circle cx="384.6" cy="967.4" r="2.0"/><circle cx="388.9" cy="957.1" r="2.0"/><circle cx="393.2" cy="946.7" r="2.0"/><circle cx="397.6" cy="936.4" r="2.0"/><circle cx="401.7" cy="926.0" r="2.0"/><circle cx="405.7" cy="915.5" r="2.0"/><circle cx="409.6" cy="905.1" r="2.0"/><circle cx="413.6" cy="894.6" r="2.0"/><circle cx="417.6" cy="884.1" r="2.0"/><circle cx="421.5" cy="873.6" r="2.0"/><circle cx="427.7" cy="864.6" r="2.0"/><circle cx="435.6" cy="856.6" r="2.0"/><circle cx="443.4" cy="848.6" r="2.0"/><circle cx="451.3" cy="840.6" r="2.0"/><circle cx="459.1" cy="832.6" r="2.0"/><circle cx="467.2" cy="824.9" r="2.0"/><circle cx="475.7" cy="817.6" r="2.0"/><circle cx="483.3" cy="814.4" r="2.0"/><circle cx="487.8" cy="824.7" r="2.0"/><circle cx="492.3" cy="834.9" r="2.0"/><circle cx="496.8" cy="845.1" r="2.0"/><circle cx="503.7" cy="853.9" r="2.0"/><circle cx="511.2" cy="862.2" r="2.0"/><circle cx="517.8" cy="871.2" r="2.0"/><circle cx="524.1" cy="880.5" r="2.0"/><circle cx="529.8" cy="890.1" r="2.0"/><circle cx="534.3" cy="900.3" r="2.0"/><circle cx="538.8" cy="910.6" r="2.0"/><circle cx="544.2" cy="920.3" r="2.0"/><circle cx="552.1" cy="928.2" r="2.0"/><circle cx="560.0" cy="936.1" r="2.0"/><circle cx="567.5" cy="944.4" r="2.0"/><circle cx="574.9" cy="952.8" r="2.0"/><circle cx="583.1" cy="960.4" r="2.0"/></g>
<polygon points="359.2,1032.8 346.7,1040.0 359.2,1047.2" fill="#FF0000"/>
<polygon points="381.3,978.1 368.8,985.4 381.3,992.6" fill="#FF0000"/>
<polygon points="404.3,923.0 391.8,930.3 404.3,937.5" fill="#FF0000"/>
<polygon points="427.4,862.0 414.9,869.2 427.4,876.5" fill="#FF0000"/>
<polygon points="468.4,820.2 455.9,827.5 468.4,834.8" fill="#FF0000"/>
<polygon points="486.4,804.8 473.9,812.0 486.4,819.2" fill="#FF0000"/>
<polygon points="501.9,839.9 489.4,847.1 501.9,854.4" fill="#FF0000"/>
<polygon points="517.5,857.4 505.0,864.6 517.5,871.9" fill="#FF0000"/>
<polygon points="532.5,879.5 520.0,886.7 532.5,894.0" fill="#FF0000"/>
<polygon points="546.4,911.0 533.9,918.3 546.4,925.5" fill="#FF0000"/>
<polygon points="558.4,923.0 545.9,930.3 558.4,937.5" fill="#FF0000"/>
<polygon points="568.4,933.0 555.9,940.3 568.4,947.5" fill="#FF0000"/>
<polygon points="576.4,943.0 563.9,950.3 576.4,957.5" fill="#FF0000"/>
<polygon points="590.5,956.0 578.0,963.3 590.5,970.5" fill="#FF0000"/>
<path d="M148.0 1042.3 L170.0 1041.5 L177.6 1041.0 L197.6 1040.5 L219.0 1040.0 L245.0 1039.5 L252.7 1039.5 L265.0 1039.0 L282.8 1038.5 L300.0 1038.0 L320.0 1037.5 L338.0 1036.5 L350.0 1037.0 L365.1 980.4 L379.1 969.4 L391.1 932.3 L401.5 857.0 L413.9 841.0 L426.0 833.3 L444.0 837.2 L455.0 834.3 L466.2 843.6 L474.2 855.6 L481.2 860.1 L487.2 867.2" fill="none" stroke="#CC0000" stroke-width="4.2" stroke-linejoin="round" stroke-linecap="round"/>
<polygon points="152.2,1035.0 139.7,1042.3 152.2,1049.5" fill="#CC0000"/>
<polygon points="174.2,1034.2 161.7,1041.5 174.2,1048.8" fill="#CC0000"/>
<polygon points="181.8,1033.8 169.3,1041.0 181.8,1048.2" fill="#CC0000"/>
<polygon points="201.8,1033.2 189.3,1040.5 201.8,1047.8" fill="#CC0000"/>
<polygon points="223.2,1032.8 210.7,1040.0 223.2,1047.2" fill="#CC0000"/>
<polygon points="249.2,1032.2 236.7,1039.5 249.2,1046.8" fill="#CC0000"/>
<polygon points="256.9,1032.2 244.4,1039.5 256.9,1046.8" fill="#CC0000"/>
<polygon points="269.2,1031.8 256.7,1039.0 269.2,1046.2" fill="#CC0000"/>
<polygon points="287.0,1031.2 274.5,1038.5 287.0,1045.8" fill="#CC0000"/>
<polygon points="304.2,1030.8 291.7,1038.0 304.2,1045.2" fill="#CC0000"/>
<polygon points="324.2,1030.2 311.7,1037.5 324.2,1044.8" fill="#CC0000"/>
<polygon points="342.2,1029.2 329.7,1036.5 342.2,1043.8" fill="#CC0000"/>
<polygon points="354.2,1029.8 341.7,1037.0 354.2,1044.2" fill="#CC0000"/>
<polygon points="369.3,973.1 356.8,980.4 369.3,987.6" fill="#CC0000"/>
<polygon points="383.3,962.1 370.8,969.4 383.3,976.6" fill="#CC0000"/>
<polygon points="395.3,925.0 382.8,932.3 395.3,939.5" fill="#CC0000"/>
<polygon points="405.7,849.8 393.2,857.0 405.7,864.2" fill="#CC0000"/>
<polygon points="418.1,833.8 405.6,841.0 418.1,848.2" fill="#CC0000"/>
<polygon points="430.2,826.0 417.7,833.3 430.2,840.5" fill="#CC0000"/>
<polygon points="448.2,830.0 435.7,837.2 448.2,844.5" fill="#CC0000"/>
<polygon points="459.2,827.0 446.7,834.3 459.2,841.5" fill="#CC0000"/>
<polygon points="470.4,836.4 457.9,843.6 470.4,850.9" fill="#CC0000"/>
<polygon points="478.4,848.4 465.9,855.6 478.4,862.9" fill="#CC0000"/>
<polygon points="485.4,852.9 472.9,860.1 485.4,867.4" fill="#CC0000"/>
<polygon points="491.4,860.0 478.9,867.2 491.4,874.5" fill="#CC0000"/>
</g>
<clipPath id="cp4"><rect x="146.9" y="0" width="582.1" height="1303.3"/></clipPath>
<g clip-path="url(#cp4)">
<path d="M160.0 1302.5 L196.0 1302.5 L232.0 1302.5 L268.0 1302.5 L304.0 1302.5 L334.0 1299.5 L358.0 1298.5 L386.0 1292.0 L416.2 1278.5 L439.2 1278.5 L462.3 1274.4 L488.2 1275.0 L509.5 1283.5 L526.5 1282.5 L543.1 1289.5 L557.2 1290.5" fill="none" stroke="#0000FF" stroke-width="4.2" stroke-linejoin="round" stroke-linecap="round"/>
<polygon points="155.8,1295.2 168.3,1302.5 155.8,1309.8" fill="#0000FF"/>
<polygon points="191.8,1295.2 204.3,1302.5 191.8,1309.8" fill="#0000FF"/>
<polygon points="227.8,1295.2 240.3,1302.5 227.8,1309.8" fill="#0000FF"/>
<polygon points="263.8,1295.2 276.3,1302.5 263.8,1309.8" fill="#0000FF"/>
<polygon points="299.8,1295.2 312.3,1302.5 299.8,1309.8" fill="#0000FF"/>
<polygon points="329.8,1292.2 342.3,1299.5 329.8,1306.8" fill="#0000FF"/>
<polygon points="353.8,1291.2 366.3,1298.5 353.8,1305.8" fill="#0000FF"/>
<polygon points="381.8,1284.8 394.3,1292.0 381.8,1299.2" fill="#0000FF"/>
<polygon points="412.0,1271.2 424.5,1278.5 412.0,1285.8" fill="#0000FF"/>
<polygon points="435.0,1271.2 447.5,1278.5 435.0,1285.8" fill="#0000FF"/>
<polygon points="458.1,1267.2 470.6,1274.4 458.1,1281.7" fill="#0000FF"/>
<polygon points="484.0,1267.8 496.5,1275.0 484.0,1282.2" fill="#0000FF"/>
<polygon points="505.3,1276.2 517.8,1283.5 505.3,1290.8" fill="#0000FF"/>
<polygon points="522.3,1275.2 534.8,1282.5 522.3,1289.8" fill="#0000FF"/>
<polygon points="538.9,1282.2 551.4,1289.5 538.9,1296.8" fill="#0000FF"/>
<polygon points="553.0,1283.2 565.5,1290.5 553.0,1297.8" fill="#0000FF"/>
<g fill="#00FF00"><circle cx="176.0" cy="1302.5" r="2.0"/><circle cx="187.2" cy="1302.5" r="2.0"/><circle cx="198.4" cy="1302.5" r="2.0"/><circle cx="209.6" cy="1302.5" r="2.0"/><circle cx="220.8" cy="1302.5" r="2.0"/><circle cx="232.0" cy="1302.5" r="2.0"/><circle cx="243.2" cy="1302.5" r="2.0"/><circle cx="254.4" cy="1302.5" r="2.0"/><circle cx="265.6" cy="1302.5" r="2.0"/><circle cx="276.8" cy="1302.5" r="2.0"/><circle cx="288.0" cy="1302.5" r="2.0"/><circle cx="299.2" cy="1302.3" r="2.0"/><circle cx="310.4" cy="1301.6" r="2.0"/><circle cx="321.6" cy="1301.0" r="2.0"/><circle cx="332.7" cy="1300.3" r="2.0"/><circle cx="343.9" cy="1299.6" r="2.0"/><circle cx="355.1" cy="1299.1" r="2.0"/><circle cx="366.3" cy="1298.7" r="2.0"/><circle cx="377.4" cy="1297.2" r="2.0"/><circle cx="388.4" cy="1295.3" r="2.0"/><circle cx="399.5" cy="1294.0" r="2.0"/><circle cx="410.2" cy="1291.0" r="2.0"/><circle cx="420.6" cy="1286.8" r="2.0"/><circle cx="431.3" cy="1284.3" r="2.0"/><circle cx="442.5" cy="1283.8" r="2.0"/><circle cx="453.6" cy="1282.5" r="2.0"/><circle cx="464.7" cy="1280.5" r="2.0"/><circle cx="475.8" cy="1279.8" r="2.0"/><circle cx="486.9" cy="1280.3" r="2.0"/><circle cx="498.0" cy="1281.7" r="2.0"/><circle cx="509.1" cy="1283.6" r="2.0"/><circle cx="520.2" cy="1284.2" r="2.0"/><circle cx="531.4" cy="1284.7" r="2.0"/><circle cx="542.5" cy="1286.4" r="2.0"/></g>
<polygon points="180.2,1295.2 167.7,1302.5 180.2,1309.8" fill="#00FF00"/>
<polygon points="240.2,1295.2 227.7,1302.5 240.2,1309.8" fill="#00FF00"/>
<polygon points="300.2,1295.2 287.7,1302.5 300.2,1309.8" fill="#00FF00"/>
<polygon points="350.2,1292.2 337.7,1299.5 350.2,1306.8" fill="#00FF00"/>
<polygon points="374.3,1291.2 361.8,1298.5 374.3,1305.8" fill="#00FF00"/>
<polygon points="391.3,1288.2 378.8,1295.5 391.3,1302.8" fill="#00FF00"/>
<polygon points="408.3,1286.2 395.8,1293.5 408.3,1300.8" fill="#00FF00"/>
<polygon points="430.4,1277.2 417.9,1284.5 430.4,1291.8" fill="#00FF00"/>
<polygon points="452.4,1276.2 439.9,1283.5 452.4,1290.8" fill="#00FF00"/>
<polygon points="474.7,1272.2 462.2,1279.5 474.7,1286.8" fill="#00FF00"/>
<polygon points="495.2,1273.2 482.7,1280.5 495.2,1287.8" fill="#00FF00"/>
<polygon points="515.9,1276.8 503.4,1284.0 515.9,1291.2" fill="#00FF00"/>
<polygon points="534.3,1277.2 521.8,1284.5 534.3,1291.8" fill="#00FF00"/>
<polygon points="553.4,1280.2 540.9,1287.5 553.4,1294.8" fill="#00FF00"/>
<g fill="#FFC000"><circle cx="172.6" cy="1301.5" r="2.0"/><circle cx="183.8" cy="1301.5" r="2.0"/><circle cx="195.0" cy="1301.5" r="2.0"/><circle cx="206.2" cy="1301.5" r="2.0"/><circle cx="217.4" cy="1301.3" r="2.0"/><circle cx="228.6" cy="1301.2" r="2.0"/><circle cx="239.8" cy="1301.0" r="2.0"/><circle cx="251.0" cy="1300.8" r="2.0"/><circle cx="262.2" cy="1300.6" r="2.0"/><circle cx="273.4" cy="1300.4" r="2.0"/><circle cx="284.6" cy="1300.3" r="2.0"/><circle cx="295.8" cy="1300.1" r="2.0"/><circle cx="307.0" cy="1299.9" r="2.0"/><circle cx="318.2" cy="1299.4" r="2.0"/><circle cx="329.4" cy="1298.8" r="2.0"/><circle cx="340.5" cy="1298.2" r="2.0"/><circle cx="351.5" cy="1296.1" r="2.0"/><circle cx="362.4" cy="1293.4" r="2.0"/><circle cx="373.2" cy="1290.7" r="2.0"/><circle cx="384.4" cy="1289.7" r="2.0"/><circle cx="395.6" cy="1288.8" r="2.0"/><circle cx="406.7" cy="1288.5" r="2.0"/><circle cx="417.9" cy="1288.5" r="2.0"/><circle cx="424.6" cy="1282.0" r="2.0"/><circle cx="428.6" cy="1271.5" r="2.0"/><circle cx="432.5" cy="1261.0" r="2.0"/><circle cx="439.2" cy="1252.6" r="2.0"/><circle cx="442.9" cy="1257.8" r="2.0"/><circle cx="444.1" cy="1269.0" r="2.0"/><circle cx="445.2" cy="1280.1" r="2.0"/><circle cx="446.2" cy="1289.7" r="2.0"/><circle cx="446.7" cy="1278.5" r="2.0"/><circle cx="447.2" cy="1267.4" r="2.0"/><circle cx="447.7" cy="1256.2" r="2.0"/><circle cx="448.5" cy="1245.2" r="2.0"/><circle cx="457.9" cy="1238.9" r="2.0"/><circle cx="464.3" cy="1230.7" r="2.0"/><circle cx="468.7" cy="1220.5" r="2.0"/><circle cx="475.6" cy="1211.6" r="2.0"/><circle cx="482.4" cy="1202.8" r="2.0"/><circle cx="487.2" cy="1192.8" r="2.0"/><circle cx="490.2" cy="1182.0" r="2.0"/><circle cx="493.2" cy="1171.3" r="2.0"/><circle cx="496.2" cy="1160.5" r="2.0"/><circle cx="499.2" cy="1149.7" r="2.0"/><circle cx="502.3" cy="1138.9" r="2.0"/><circle cx="505.3" cy="1128.1" r="2.0"/><circle cx="509.5" cy="1119.8" r="2.0"/><circle cx="519.8" cy="1124.1" r="2.0"/><circle cx="529.3" cy="1125.9" r="2.0"/><circle cx="534.7" cy="1116.1" r="2.0"/><circle cx="540.4" cy="1106.5" r="2.0"/><circle cx="548.6" cy="1104.6" r="2.0"/><circle cx="558.6" cy="1108.7" r="2.0"/><circle cx="567.1" cy="1101.3" r="2.0"/><circle cx="574.9" cy="1096.7" r="2.0"/><circle cx="579.4" cy="1106.9" r="2.0"/><circle cx="583.8" cy="1117.2" r="2.0"/><circle cx="588.5" cy="1127.3" r="2.0"/><circle cx="598.4" cy="1132.6" r="2.0"/><circle cx="607.5" cy="1138.9" r="2.0"/><circle cx="617.1" cy="1144.4" r="2.0"/><circle cx="625.2" cy="1151.8" r="2.0"/><circle cx="629.5" cy="1161.7" r="2.0"/><circle cx="631.6" cy="1172.7" r="2.0"/><circle cx="634.7" cy="1179.3" r="2.0"/><circle cx="641.6" cy="1171.6" r="2.0"/></g>
<polygon points="168.4,1294.2 180.9,1301.5 168.4,1308.8" fill="#FFC000"/>
<polygon points="200.8,1294.2 213.3,1301.5 200.8,1308.8" fill="#FFC000"/>
<polygon points="234.8,1293.8 247.3,1301.0 234.8,1308.2" fill="#FFC000"/>
<polygon points="263.6,1293.2 276.1,1300.5 263.6,1307.8" fill="#FFC000"/>
<polygon points="301.8,1292.8 314.3,1300.0 301.8,1307.2" fill="#FFC000"/>
<polygon points="339.8,1290.8 352.3,1298.0 339.8,1305.2" fill="#FFC000"/>
<polygon points="369.9,1283.2 382.4,1290.5 369.9,1297.8" fill="#FFC000"/>
<polygon points="395.9,1281.2 408.4,1288.5 395.9,1295.8" fill="#FFC000"/>
<polygon points="418.0,1281.2 430.5,1288.5 418.0,1295.8" fill="#FFC000"/>
<polygon points="430.0,1249.2 442.5,1256.4 430.0,1263.7" fill="#FFC000"/>
<polygon points="438.0,1243.2 450.5,1250.4 438.0,1257.7" fill="#FFC000"/>
<polygon points="442.0,1283.2 454.5,1290.5 442.0,1297.8" fill="#FFC000"/>
<polygon points="444.0,1238.2 456.5,1245.4 444.0,1252.7" fill="#FFC000"/>
<polygon points="451.1,1233.2 463.6,1240.4 451.1,1247.7" fill="#FFC000"/>
<polygon points="458.1,1229.2 470.6,1236.4 458.1,1243.7" fill="#FFC000"/>
<polygon points="463.1,1215.0 475.6,1222.3 463.1,1229.5" fill="#FFC000"/>
<polygon points="481.3,1191.5 493.8,1198.8 481.3,1206.0" fill="#FFC000"/>
<polygon points="503.6,1111.8 516.1,1119.1 503.6,1126.3" fill="#FFC000"/>
<polygon points="524.1,1120.5 536.6,1127.7 524.1,1135.0" fill="#FFC000"/>
<polygon points="529.9,1109.8 542.4,1117.1 529.9,1124.3" fill="#FFC000"/>
<polygon points="538.9,1094.8 551.4,1102.1 538.9,1109.3" fill="#FFC000"/>
<polygon points="554.0,1101.8 566.5,1109.1 554.0,1116.3" fill="#FFC000"/>
<polygon points="570.0,1087.8 582.5,1095.1 570.0,1102.3" fill="#FFC000"/>
<polygon points="584.0,1120.0 596.5,1127.2 584.0,1134.5" fill="#FFC000"/>
<polygon points="599.1,1128.0 611.6,1135.2 599.1,1142.5" fill="#FFC000"/>
<polygon points="607.1,1135.0 619.6,1142.2 607.1,1149.5" fill="#FFC000"/>
<polygon points="615.1,1138.0 627.6,1145.2 615.1,1152.5" fill="#FFC000"/>
<polygon points="624.1,1148.0 636.6,1155.2 624.1,1162.5" fill="#FFC000"/>
<polygon points="629.1,1174.0 641.6,1181.3 629.1,1188.5" fill="#FFC000"/>
<polygon points="636.1,1164.0 648.6,1171.2 636.1,1178.5" fill="#FFC000"/>
<polygon points="645.2,1167.0 657.7,1174.2 645.2,1181.5" fill="#FFC000"/>
<path d="M155.0 1301.5 L190.0 1301.5 L225.0 1301.0 L260.0 1300.5 L292.0 1300.0 L322.0 1297.5 L348.0 1290.5 L369.1 1272.4 L391.1 1254.4 L416.2 1240.4 L436.2 1227.4 L460.3 1209.3 L479.5 1209.3 L494.0 1214.3 L512.8 1212.3" fill="none" stroke="#FF6000" stroke-width="4.2" stroke-linejoin="round" stroke-linecap="round"/>
<polygon points="159.2,1294.2 146.7,1301.5 159.2,1308.8" fill="#FF6000"/>
<polygon points="194.2,1294.2 181.7,1301.5 194.2,1308.8" fill="#FF6000"/>
<polygon points="229.2,1293.8 216.7,1301.0 229.2,1308.2" fill="#FF6000"/>
<polygon points="264.2,1293.2 251.7,1300.5 264.2,1307.8" fill="#FF6000"/>
<polygon points="296.2,1292.8 283.7,1300.0 296.2,1307.2" fill="#FF6000"/>
<polygon points="326.2,1290.2 313.7,1297.5 326.2,1304.8" fill="#FF6000"/>
<polygon points="352.2,1283.2 339.7,1290.5 352.2,1297.8" fill="#FF6000"/>
<polygon points="373.3,1265.2 360.8,1272.4 373.3,1279.7" fill="#FF6000"/>
<polygon points="395.3,1247.2 382.8,1254.4 395.3,1261.7" fill="#FF6000"/>
<polygon points="420.4,1233.2 407.9,1240.4 420.4,1247.7" fill="#FF6000"/>
<polygon points="440.4,1220.2 427.9,1227.4 440.4,1234.7" fill="#FF6000"/>
<polygon points="464.5,1202.0 452.0,1209.3 464.5,1216.5" fill="#FF6000"/>
<polygon points="483.7,1202.0 471.2,1209.3 483.7,1216.5" fill="#FF6000"/>
<polygon points="498.2,1207.0 485.7,1214.3 498.2,1221.5" fill="#FF6000"/>
<polygon points="517.0,1205.0 504.5,1212.3 517.0,1219.5" fill="#FF6000"/>
<path d="M150.0 1300.5 L180.0 1300.3 L207.6 1299.8 L232.7 1299.3 L257.7 1298.3 L285.0 1296.8 L308.0 1296.2 L328.0 1295.7 L348.0 1293.5 L365.1 1286.5 L384.1 1287.5 L399.1 1254.4 L413.2 1219.3 L428.2 1203.3 L441.2 1201.3 L453.2 1199.3 L462.3 1162.2 L473.0 1164.2 L479.7 1178.3 L488.7 1188.3 L498.2 1196.3 L505.8 1188.3 L505.8 1210.3 L499.2 1214.3" fill="none" stroke="#CC0000" stroke-width="4.2" stroke-linejoin="round" stroke-linecap="round"/>
<polygon points="145.8,1293.2 158.3,1300.5 145.8,1307.8" fill="#CC0000"/>
<polygon points="175.8,1293.0 188.3,1300.3 175.8,1307.5" fill="#CC0000"/>
<polygon points="203.4,1292.5 215.9,1299.8 203.4,1307.0" fill="#CC0000"/>
<polygon points="228.5,1292.0 241.0,1299.3 228.5,1306.5" fill="#CC0000"/>
<polygon points="253.5,1291.0 266.0,1298.3 253.5,1305.5" fill="#CC0000"/>
<polygon points="280.8,1289.5 293.3,1296.8 280.8,1304.0" fill="#CC0000"/>
<polygon points="303.8,1289.0 316.3,1296.2 303.8,1303.5" fill="#CC0000"/>
<polygon points="323.8,1288.5 336.3,1295.7 323.8,1303.0" fill="#CC0000"/>
<polygon points="343.8,1286.2 356.3,1293.5 343.8,1300.8" fill="#CC0000"/>
<polygon points="360.9,1279.2 373.4,1286.5 360.9,1293.8" fill="#CC0000"/>
<polygon points="379.9,1280.2 392.4,1287.5 379.9,1294.8" fill="#CC0000"/>
<polygon points="394.9,1247.2 407.4,1254.4 394.9,1261.7" fill="#CC0000"/>
<polygon points="409.0,1212.0 421.5,1219.3 409.0,1226.5" fill="#CC0000"/>
<polygon points="424.0,1196.0 436.5,1203.3 424.0,1210.5" fill="#CC0000"/>
<polygon points="437.0,1194.0 449.5,1201.3 437.0,1208.5" fill="#CC0000"/>
<polygon points="449.0,1192.0 461.5,1199.3 449.0,1206.5" fill="#CC0000"/>
<polygon points="458.1,1155.0 470.6,1162.2 458.1,1169.5" fill="#CC0000"/>
<polygon points="468.8,1157.0 481.3,1164.2 468.8,1171.5" fill="#CC0000"/>
<polygon points="475.5,1171.0 488.0,1178.3 475.5,1185.5" fill="#CC0000"/>
<polygon points="484.5,1181.0 497.0,1188.3 484.5,1195.5" fill="#CC0000"/>
<polygon points="494.0,1189.0 506.5,1196.3 494.0,1203.5" fill="#CC0000"/>
<polygon points="501.6,1181.0 514.1,1188.3 501.6,1195.5" fill="#CC0000"/>
<polygon points="501.6,1203.0 514.1,1210.3 501.6,1217.5" fill="#CC0000"/>
<polygon points="495.0,1207.0 507.5,1214.3 495.0,1221.5" fill="#CC0000"/>
</g>
<g stroke="#000" stroke-width="3.9" fill="none"><line x1="146.9" y1="12.1" x2="146.9" y2="261.9"/><line x1="145.0" y1="260.0" x2="711.0" y2="260.0"/><line x1="132.4" y1="260.0" x2="146.9" y2="260.0"/><line x1="132.4" y1="210.8" x2="146.9" y2="210.8"/><line x1="132.4" y1="161.6" x2="146.9" y2="161.6"/><line x1="132.4" y1="112.4" x2="146.9" y2="112.4"/><line x1="132.4" y1="63.2" x2="146.9" y2="63.2"/><line x1="132.4" y1="14.0" x2="146.9" y2="14.0"/><line x1="139.4" y1="235.4" x2="146.9" y2="235.4"/><line x1="139.4" y1="186.2" x2="146.9" y2="186.2"/><line x1="139.4" y1="137.0" x2="146.9" y2="137.0"/><line x1="139.4" y1="87.8" x2="146.9" y2="87.8"/><line x1="139.4" y1="38.6" x2="146.9" y2="38.6"/><line x1="147.3" y1="260.0" x2="147.3" y2="274.5"/><line x1="217.5" y1="260.0" x2="217.5" y2="267.5"/><line x1="287.7" y1="260.0" x2="287.7" y2="274.5"/><line x1="357.9" y1="260.0" x2="357.9" y2="267.5"/><line x1="428.2" y1="260.0" x2="428.2" y2="274.5"/><line x1="498.4" y1="260.0" x2="498.4" y2="267.5"/><line x1="568.6" y1="260.0" x2="568.6" y2="274.5"/><line x1="638.8" y1="260.0" x2="638.8" y2="267.5"/><line x1="709.0" y1="260.0" x2="709.0" y2="274.5"/></g>
<text x="121.0" y="270.0" font-size="32" text-anchor="end">0</text>
<text x="121.0" y="220.8" font-size="32" text-anchor="end">2</text>
<text x="121.0" y="171.6" font-size="32" text-anchor="end">4</text>
<text x="121.0" y="122.4" font-size="32" text-anchor="end">6</text>
<text x="121.0" y="73.2" font-size="32" text-anchor="end">8</text>
<text x="121.0" y="24.0" font-size="32" text-anchor="end">10</text>
<text x="158.5" y="46.7" font-size="32">(a) <tspan font-family="&quot;Liberation Serif&quot;, &quot;DejaVu Serif&quot;, serif" font-size="32">μ</tspan><tspan dx="0.8"> </tspan>= 2400 MeV G<tspan dy="-13.8" font-size="21.5">-1</tspan></text>
<text x="258.5" y="86.0" font-size="32">2.0 MeV</text>
<text transform="translate(26.2 137.0) rotate(-90)" font-size="35" text-anchor="middle">PSD</text>
<text transform="translate(78.8 137.0) rotate(-90)" font-size="35" text-anchor="middle" letter-spacing="0.8">(×10<tspan dy="-15" font-size="25">-7</tspan><tspan dy="15">)</tspan></text>
<g stroke="#000" stroke-width="3.9" fill="none"><line x1="146.9" y1="260.0" x2="146.9" y2="522.2"/><line x1="145.0" y1="520.3" x2="711.0" y2="520.3"/><line x1="132.4" y1="520.3" x2="146.9" y2="520.3"/><line x1="132.4" y1="450.1" x2="146.9" y2="450.1"/><line x1="132.4" y1="379.9" x2="146.9" y2="379.9"/><line x1="132.4" y1="309.7" x2="146.9" y2="309.7"/><line x1="139.4" y1="485.2" x2="146.9" y2="485.2"/><line x1="139.4" y1="415.0" x2="146.9" y2="415.0"/><line x1="139.4" y1="344.8" x2="146.9" y2="344.8"/><line x1="139.4" y1="274.6" x2="146.9" y2="274.6"/><line x1="147.3" y1="520.3" x2="147.3" y2="534.8"/><line x1="217.5" y1="520.3" x2="217.5" y2="527.8"/><line x1="287.7" y1="520.3" x2="287.7" y2="534.8"/><line x1="357.9" y1="520.3" x2="357.9" y2="527.8"/><line x1="428.2" y1="520.3" x2="428.2" y2="534.8"/><line x1="498.4" y1="520.3" x2="498.4" y2="527.8"/><line x1="568.6" y1="520.3" x2="568.6" y2="534.8"/><line x1="638.8" y1="520.3" x2="638.8" y2="527.8"/><line x1="709.0" y1="520.3" x2="709.0" y2="534.8"/></g>
<text x="121.0" y="530.3" font-size="32" text-anchor="end">0</text>
<text x="121.0" y="460.1" font-size="32" text-anchor="end">5</text>
<text x="121.0" y="389.9" font-size="32" text-anchor="end">10</text>
<text x="121.0" y="319.7" font-size="32" text-anchor="end">15</text>
<text x="158.5" y="307.0" font-size="32">(b) <tspan font-family="&quot;Liberation Serif&quot;, &quot;DejaVu Serif&quot;, serif" font-size="32">μ</tspan><tspan dx="0.8"> </tspan>= 3000 MeV G<tspan dy="-13.8" font-size="21.5">-1</tspan></text>
<text x="258.5" y="346.3" font-size="32">2.3 MeV</text>
<text transform="translate(26.2 397.3) rotate(-90)" font-size="35" text-anchor="middle">PSD</text>
<text transform="translate(78.8 397.3) rotate(-90)" font-size="35" text-anchor="middle" letter-spacing="0.8">(×10<tspan dy="-15" font-size="25">-8</tspan><tspan dy="15">)</tspan></text>
<g stroke="#000" stroke-width="3.9" fill="none"><line x1="146.9" y1="520.3" x2="146.9" y2="783.5"/><line x1="145.0" y1="781.5" x2="711.0" y2="781.5"/><line x1="132.4" y1="781.5" x2="146.9" y2="781.5"/><line x1="132.4" y1="711.2" x2="146.9" y2="711.2"/><line x1="132.4" y1="640.9" x2="146.9" y2="640.9"/><line x1="132.4" y1="570.6" x2="146.9" y2="570.6"/><line x1="139.4" y1="746.4" x2="146.9" y2="746.4"/><line x1="139.4" y1="676.1" x2="146.9" y2="676.1"/><line x1="139.4" y1="605.8" x2="146.9" y2="605.8"/><line x1="139.4" y1="535.5" x2="146.9" y2="535.5"/><line x1="147.3" y1="781.5" x2="147.3" y2="796.0"/><line x1="217.5" y1="781.5" x2="217.5" y2="789.0"/><line x1="287.7" y1="781.5" x2="287.7" y2="796.0"/><line x1="357.9" y1="781.5" x2="357.9" y2="789.0"/><line x1="428.2" y1="781.5" x2="428.2" y2="796.0"/><line x1="498.4" y1="781.5" x2="498.4" y2="789.0"/><line x1="568.6" y1="781.5" x2="568.6" y2="796.0"/><line x1="638.8" y1="781.5" x2="638.8" y2="789.0"/><line x1="709.0" y1="781.5" x2="709.0" y2="796.0"/></g>
<text x="121.0" y="791.5" font-size="32" text-anchor="end">0</text>
<text x="121.0" y="721.2" font-size="32" text-anchor="end">3</text>
<text x="121.0" y="650.9" font-size="32" text-anchor="end">6</text>
<text x="121.0" y="580.6" font-size="32" text-anchor="end">9</text>
<text x="158.5" y="568.2" font-size="32">(c) <tspan font-family="&quot;Liberation Serif&quot;, &quot;DejaVu Serif&quot;, serif" font-size="32">μ</tspan><tspan dx="0.8"> </tspan>= 4500 MeV G<tspan dy="-13.8" font-size="21.5">-1</tspan></text>
<text x="258.5" y="607.5" font-size="32">2.9 MeV</text>
<text transform="translate(29.7 658.5) rotate(-90)" font-size="35" text-anchor="middle">PSD</text>
<text transform="translate(82.3 658.5) rotate(-90)" font-size="35" text-anchor="middle" letter-spacing="0.8">(×10<tspan dy="-15" font-size="25">-8</tspan><tspan dy="15">)</tspan></text>
<g stroke="#000" stroke-width="3.9" fill="none"><line x1="146.9" y1="781.5" x2="146.9" y2="1044.2"/><line x1="145.0" y1="1042.3" x2="711.0" y2="1042.3"/><line x1="132.4" y1="1042.3" x2="146.9" y2="1042.3"/><line x1="132.4" y1="943.9" x2="146.9" y2="943.9"/><line x1="132.4" y1="845.5" x2="146.9" y2="845.5"/><line x1="139.4" y1="993.1" x2="146.9" y2="993.1"/><line x1="139.4" y1="894.7" x2="146.9" y2="894.7"/><line x1="139.4" y1="796.3" x2="146.9" y2="796.3"/><line x1="147.3" y1="1042.3" x2="147.3" y2="1056.8"/><line x1="217.5" y1="1042.3" x2="217.5" y2="1049.8"/><line x1="287.7" y1="1042.3" x2="287.7" y2="1056.8"/><line x1="357.9" y1="1042.3" x2="357.9" y2="1049.8"/><line x1="428.2" y1="1042.3" x2="428.2" y2="1056.8"/><line x1="498.4" y1="1042.3" x2="498.4" y2="1049.8"/><line x1="568.6" y1="1042.3" x2="568.6" y2="1056.8"/><line x1="638.8" y1="1042.3" x2="638.8" y2="1049.8"/><line x1="709.0" y1="1042.3" x2="709.0" y2="1056.8"/></g>
<text x="121.0" y="1052.3" font-size="32" text-anchor="end">0</text>
<text x="121.0" y="953.9" font-size="32" text-anchor="end">2</text>
<text x="121.0" y="855.5" font-size="32" text-anchor="end">4</text>
<text x="158.5" y="829.0" font-size="32">(d) <tspan font-family="&quot;Liberation Serif&quot;, &quot;DejaVu Serif&quot;, serif" font-size="32">μ</tspan><tspan dx="0.8"> </tspan>= 6500 MeV G<tspan dy="-13.8" font-size="21.5">-1</tspan></text>
<text x="258.5" y="868.3" font-size="32">3.6 MeV</text>
<text transform="translate(29.7 919.3) rotate(-90)" font-size="35" text-anchor="middle">PSD</text>
<text transform="translate(82.3 919.3) rotate(-90)" font-size="35" text-anchor="middle" letter-spacing="0.8">(×10<tspan dy="-15" font-size="25">-9</tspan><tspan dy="15">)</tspan></text>
<g stroke="#000" stroke-width="3.9" fill="none"><line x1="146.9" y1="1042.3" x2="146.9" y2="1305.2"/><line x1="145.0" y1="1303.3" x2="711.0" y2="1303.3"/><line x1="132.4" y1="1303.3" x2="146.9" y2="1303.3"/><line x1="132.4" y1="1233.1" x2="146.9" y2="1233.1"/><line x1="132.4" y1="1163.0" x2="146.9" y2="1163.0"/><line x1="132.4" y1="1092.8" x2="146.9" y2="1092.8"/><line x1="139.4" y1="1268.2" x2="146.9" y2="1268.2"/><line x1="139.4" y1="1198.1" x2="146.9" y2="1198.1"/><line x1="139.4" y1="1127.9" x2="146.9" y2="1127.9"/><line x1="139.4" y1="1057.8" x2="146.9" y2="1057.8"/><line x1="147.3" y1="1303.3" x2="147.3" y2="1317.8"/><line x1="217.5" y1="1303.3" x2="217.5" y2="1310.8"/><line x1="287.7" y1="1303.3" x2="287.7" y2="1317.8"/><line x1="357.9" y1="1303.3" x2="357.9" y2="1310.8"/><line x1="428.2" y1="1303.3" x2="428.2" y2="1317.8"/><line x1="498.4" y1="1303.3" x2="498.4" y2="1310.8"/><line x1="568.6" y1="1303.3" x2="568.6" y2="1317.8"/><line x1="638.8" y1="1303.3" x2="638.8" y2="1310.8"/><line x1="709.0" y1="1303.3" x2="709.0" y2="1317.8"/></g>
<text x="121.0" y="1313.3" font-size="32" text-anchor="end">0</text>
<text x="121.0" y="1243.1" font-size="32" text-anchor="end">1</text>
<text x="121.0" y="1173.0" font-size="32" text-anchor="end">2</text>
<text x="121.0" y="1102.8" font-size="32" text-anchor="end">3</text>
<text x="158.5" y="1090.0" font-size="32">(e) <tspan font-family="&quot;Liberation Serif&quot;, &quot;DejaVu Serif&quot;, serif" font-size="32">μ</tspan><tspan dx="0.8"> </tspan>= 9800 MeV G<tspan dy="-13.8" font-size="21.5">-1</tspan></text>
<text x="258.5" y="1129.3" font-size="32">4.5 MeV</text>
<text transform="translate(29.7 1180.3) rotate(-90)" font-size="35" text-anchor="middle">PSD</text>
<text transform="translate(82.3 1180.3) rotate(-90)" font-size="35" text-anchor="middle" letter-spacing="0.8">(×10<tspan dy="-15" font-size="25">-10</tspan><tspan dy="15">)</tspan></text>
<text x="147.3" y="1354.2" font-size="32" text-anchor="middle">4.0</text>
<text x="287.7" y="1354.2" font-size="32" text-anchor="middle">4.5</text>
<text x="428.2" y="1354.2" font-size="32" text-anchor="middle">5.0</text>
<text x="568.6" y="1354.2" font-size="32" text-anchor="middle">5.5</text>
<text x="709.0" y="1354.2" font-size="32" text-anchor="middle">6.0</text>
<text x="428.0" y="1399.7" font-size="35" text-anchor="middle">L*</text>
<path d="M674.0 63.9 H729.6" fill="none" stroke="#CC0000" stroke-width="4.2" stroke-linecap="round"/>
<polygon points="698.2,56.6 710.7,63.9 698.2,71.2" fill="#CC0000"/>
<text x="738.0" y="72.1" font-size="25.05" fill="#CC0000">B 2019-02-03 22:43:11</text>
<path d="M674.0 92.1 H729.6" fill="none" stroke="#FF0000" stroke-width="4.2" stroke-linecap="round"/>
<polygon points="706.6,84.8 694.1,92.1 706.6,99.3" fill="#FF0000"/>
<text x="738.0" y="100.3" font-size="25.05" fill="#FF0000">B 2019-02-03 18:12:14</text>
<path d="M674.0 120.3 H729.6" fill="none" stroke="#FF8000" stroke-width="4.2" stroke-linecap="round"/>
<polygon points="698.2,113.0 710.7,120.3 698.2,127.5" fill="#FF8000"/>
<text x="738.0" y="128.5" font-size="25.05" fill="#FF8000">B 2019-02-03 04:39:22</text>
<g fill="#FFC000"><circle cx="674.6" cy="148.5" r="2.0"/><circle cx="685.8" cy="148.5" r="2.0"/><circle cx="697.0" cy="148.5" r="2.0"/><circle cx="708.2" cy="148.5" r="2.0"/><circle cx="719.4" cy="148.5" r="2.0"/><circle cx="730.7" cy="148.5" r="2.0"/></g>
<polygon points="698.2,141.2 710.7,148.5 698.2,155.8" fill="#FFC000"/>
<text x="738.0" y="156.7" font-size="25.05" fill="#FFC000">A 2019-02-03 04:18:15</text>
<path d="M674.0 176.7 H729.6" fill="none" stroke="#00FF00" stroke-width="4.2" stroke-linecap="round"/>
<polygon points="706.6,169.4 694.1,176.7 706.6,183.9" fill="#00FF00"/>
<text x="738.0" y="184.9" font-size="25.05" fill="#00FF00">B 2019-02-03 00:08:24</text>
<g fill="#00B0F0"><circle cx="674.6" cy="204.9" r="2.0"/><circle cx="685.8" cy="204.9" r="2.0"/><circle cx="697.0" cy="204.9" r="2.0"/><circle cx="708.2" cy="204.9" r="2.0"/><circle cx="719.4" cy="204.9" r="2.0"/><circle cx="730.7" cy="204.9" r="2.0"/></g>
<polygon points="706.6,197.6 694.1,204.9 706.6,212.1" fill="#00B0F0"/>
<text x="738.0" y="213.1" font-size="25.05" fill="#00B0F0">A 2019-02-02 23:50:21</text>
<g fill="#0000FF"><circle cx="674.6" cy="233.1" r="2.0"/><circle cx="685.8" cy="233.1" r="2.0"/><circle cx="697.0" cy="233.1" r="2.0"/><circle cx="708.2" cy="233.1" r="2.0"/><circle cx="719.4" cy="233.1" r="2.0"/><circle cx="730.7" cy="233.1" r="2.0"/></g>
<polygon points="698.2,225.8 710.7,233.1 698.2,240.3" fill="#0000FF"/>
<text x="738.0" y="241.3" font-size="25.05" fill="#0000FF">A 2019-02-02 19:22:28</text>
<path d="M677.8 305.0 H733.4" fill="none" stroke="#CC0000" stroke-width="4.2" stroke-linecap="round"/>
<polygon points="710.4,297.8 697.9,305.0 710.4,312.2" fill="#CC0000"/>
<text x="741.8" y="313.2" font-size="25.05" fill="#CC0000">B 2019-02-04 03:14:08</text>
<path d="M677.8 333.2 H733.4" fill="none" stroke="#FF0000" stroke-width="4.2" stroke-linecap="round"/>
<polygon points="702.0,325.9 714.5,333.2 702.0,340.4" fill="#FF0000"/>
<text x="741.8" y="341.4" font-size="25.05" fill="#FF0000">B 2019-02-03 22:43:11</text>
<path d="M677.8 361.4 H733.4" fill="none" stroke="#FF8000" stroke-width="4.2" stroke-linecap="round"/>
<polygon points="702.0,354.1 714.5,361.4 702.0,368.6" fill="#FF8000"/>
<text x="741.8" y="369.6" font-size="25.05" fill="#FF8000">B 2019-02-03 13:41:16</text>
<g fill="#FFC000"><circle cx="678.4" cy="389.6" r="2.0"/><circle cx="689.6" cy="389.6" r="2.0"/><circle cx="700.8" cy="389.6" r="2.0"/><circle cx="712.0" cy="389.6" r="2.0"/><circle cx="723.2" cy="389.6" r="2.0"/><circle cx="734.5" cy="389.6" r="2.0"/></g>
<polygon points="702.0,382.3 714.5,389.6 702.0,396.8" fill="#FFC000"/>
<text x="741.8" y="397.8" font-size="25.05" fill="#FFC000">A 2019-02-03 13:14:03</text>
<path d="M677.8 417.8 H733.4" fill="none" stroke="#99FF00" stroke-width="4.2" stroke-linecap="round"/>
<polygon points="710.4,410.5 697.9,417.8 710.4,425.0" fill="#99FF00"/>
<text x="741.8" y="426.0" font-size="25.05" fill="#99FF00">B 2019-02-03 09:10:19</text>
<g fill="#00FFA0"><circle cx="678.4" cy="446.0" r="2.0"/><circle cx="689.6" cy="446.0" r="2.0"/><circle cx="700.8" cy="446.0" r="2.0"/><circle cx="712.0" cy="446.0" r="2.0"/><circle cx="723.2" cy="446.0" r="2.0"/><circle cx="734.5" cy="446.0" r="2.0"/></g>
<polygon points="702.0,438.7 714.5,446.0 702.0,453.2" fill="#00FFA0"/>
<text x="741.8" y="454.2" font-size="25.05" fill="#00FFA0">A 2019-02-03 04:18:15</text>
<path d="M677.8 474.2 H733.4" fill="none" stroke="#00B0F0" stroke-width="4.2" stroke-linecap="round"/>
<polygon points="702.0,466.9 714.5,474.2 702.0,481.4" fill="#00B0F0"/>
<text x="741.8" y="482.4" font-size="25.05" fill="#00B0F0">B 2019-02-02 19:37:27</text>
<g fill="#0000FF"><circle cx="678.4" cy="502.4" r="2.0"/><circle cx="689.6" cy="502.4" r="2.0"/><circle cx="700.8" cy="502.4" r="2.0"/><circle cx="712.0" cy="502.4" r="2.0"/><circle cx="723.2" cy="502.4" r="2.0"/><circle cx="734.5" cy="502.4" r="2.0"/></g>
<polygon points="702.0,495.1 714.5,502.4 702.0,509.6" fill="#0000FF"/>
<text x="741.8" y="510.6" font-size="25.05" fill="#0000FF">A 2019-02-02 19:22:28</text>
<g fill="#CC0000"><circle cx="675.6" cy="603.0" r="2.0"/><circle cx="686.8" cy="603.0" r="2.0"/><circle cx="698.0" cy="603.0" r="2.0"/><circle cx="709.2" cy="603.0" r="2.0"/><circle cx="720.4" cy="603.0" r="2.0"/><circle cx="731.7" cy="603.0" r="2.0"/></g>
<polygon points="699.2,595.8 711.7,603.0 699.2,610.2" fill="#CC0000"/>
<text x="739.0" y="611.2" font-size="25.05" fill="#CC0000">A 2019-02-03 22:09:51</text>
<path d="M675.0 631.1 H730.6" fill="none" stroke="#FF6000" stroke-width="4.2" stroke-linecap="round"/>
<polygon points="707.6,623.9 695.1,631.1 707.6,638.4" fill="#FF6000"/>
<text x="739.0" y="639.3" font-size="25.05" fill="#FF6000">B 2019-02-03 18:12:14</text>
<path d="M675.0 659.2 H730.6" fill="none" stroke="#FFC000" stroke-width="4.2" stroke-linecap="round"/>
<polygon points="699.2,652.0 711.7,659.2 699.2,666.5" fill="#FFC000"/>
<text x="739.0" y="667.4" font-size="25.05" fill="#FFC000">B 2019-02-03 13:41:16</text>
<path d="M675.0 687.3 H730.6" fill="none" stroke="#00FF00" stroke-width="4.2" stroke-linecap="round"/>
<polygon points="707.6,680.1 695.1,687.3 707.6,694.6" fill="#00FF00"/>
<text x="739.0" y="695.5" font-size="25.05" fill="#00FF00">B 2019-02-03 00:08:24</text>
<g fill="#0000FF"><circle cx="675.6" cy="715.4" r="2.0"/><circle cx="686.8" cy="715.4" r="2.0"/><circle cx="698.0" cy="715.4" r="2.0"/><circle cx="709.2" cy="715.4" r="2.0"/><circle cx="720.4" cy="715.4" r="2.0"/><circle cx="731.7" cy="715.4" r="2.0"/></g>
<polygon points="707.6,708.2 695.1,715.4 707.6,722.7" fill="#0000FF"/>
<text x="739.0" y="723.6" font-size="25.05" fill="#0000FF">A 2019-02-02 23:50:21</text>
<path d="M675.2 842.0 H730.8" fill="none" stroke="#CC0000" stroke-width="4.2" stroke-linecap="round"/>
<polygon points="707.8,834.8 695.3,842.0 707.8,849.2" fill="#CC0000"/>
<text x="739.2" y="850.2" font-size="25.05" fill="#CC0000">B 2019-02-04 12:16:03</text>
<g fill="#FF0000"><circle cx="675.8" cy="870.2" r="2.0"/><circle cx="687.0" cy="870.2" r="2.0"/><circle cx="698.2" cy="870.2" r="2.0"/><circle cx="709.4" cy="870.2" r="2.0"/><circle cx="720.6" cy="870.2" r="2.0"/><circle cx="731.9" cy="870.2" r="2.0"/></g>
<polygon points="707.8,863.0 695.3,870.2 707.8,877.5" fill="#FF0000"/>
<text x="739.2" y="878.4" font-size="25.05" fill="#FF0000">A 2019-02-04 02:37:45</text>
<g fill="#FF8000"><circle cx="675.8" cy="898.4" r="2.0"/><circle cx="687.0" cy="898.4" r="2.0"/><circle cx="698.2" cy="898.4" r="2.0"/><circle cx="709.4" cy="898.4" r="2.0"/><circle cx="720.6" cy="898.4" r="2.0"/><circle cx="731.9" cy="898.4" r="2.0"/></g>
<polygon points="699.4,891.2 711.9,898.4 699.4,905.7" fill="#FF8000"/>
<text x="739.2" y="906.6" font-size="25.05" fill="#FF8000">A 2019-02-03 22:09:51</text>
<path d="M675.2 926.6 H730.8" fill="none" stroke="#FFC000" stroke-width="4.2" stroke-linecap="round"/>
<polygon points="699.4,919.4 711.9,926.6 699.4,933.9" fill="#FFC000"/>
<text x="739.2" y="934.8" font-size="25.05" fill="#FFC000">B 2019-02-03 13:41:16</text>
<g fill="#00FF00"><circle cx="675.8" cy="954.8" r="2.0"/><circle cx="687.0" cy="954.8" r="2.0"/><circle cx="698.2" cy="954.8" r="2.0"/><circle cx="709.4" cy="954.8" r="2.0"/><circle cx="720.6" cy="954.8" r="2.0"/><circle cx="731.9" cy="954.8" r="2.0"/></g>
<polygon points="699.4,947.6 711.9,954.8 699.4,962.1" fill="#00FF00"/>
<text x="739.2" y="963.0" font-size="25.05" fill="#00FF00">A 2019-02-03 13:14:03</text>
<g fill="#00B0F0"><circle cx="675.8" cy="983.0" r="2.0"/><circle cx="687.0" cy="983.0" r="2.0"/><circle cx="698.2" cy="983.0" r="2.0"/><circle cx="709.4" cy="983.0" r="2.0"/><circle cx="720.6" cy="983.0" r="2.0"/><circle cx="731.9" cy="983.0" r="2.0"/></g>
<polygon points="707.8,975.8 695.3,983.0 707.8,990.3" fill="#00B0F0"/>
<text x="739.2" y="991.2" font-size="25.05" fill="#00B0F0">A 2019-02-02 23:50:21</text>
<path d="M675.2 1011.2 H730.8" fill="none" stroke="#0000FF" stroke-width="4.2" stroke-linecap="round"/>
<polygon points="699.4,1004.0 711.9,1011.2 699.4,1018.5" fill="#0000FF"/>
<text x="739.2" y="1019.4" font-size="25.05" fill="#0000FF">B 2019-02-02 19:37:27</text>
<path d="M674.6 1142.3 H730.2" fill="none" stroke="#CC0000" stroke-width="4.2" stroke-linecap="round"/>
<polygon points="698.8,1135.0 711.3,1142.3 698.8,1149.5" fill="#CC0000"/>
<text x="738.6" y="1150.5" font-size="25.05" fill="#CC0000">B 2019-02-04 07:45:06</text>
<path d="M674.6 1170.4 H730.2" fill="none" stroke="#FF6000" stroke-width="4.2" stroke-linecap="round"/>
<polygon points="707.2,1163.1 694.7,1170.4 707.2,1177.6" fill="#FF6000"/>
<text x="738.6" y="1178.6" font-size="25.05" fill="#FF6000">B 2019-02-03 18:12:14</text>
<g fill="#FFC000"><circle cx="675.2" cy="1198.5" r="2.0"/><circle cx="686.4" cy="1198.5" r="2.0"/><circle cx="697.6" cy="1198.5" r="2.0"/><circle cx="708.8" cy="1198.5" r="2.0"/><circle cx="720.0" cy="1198.5" r="2.0"/><circle cx="731.3" cy="1198.5" r="2.0"/></g>
<polygon points="698.8,1191.2 711.3,1198.5 698.8,1205.7" fill="#FFC000"/>
<text x="738.6" y="1206.7" font-size="25.05" fill="#FFC000">A 2019-02-03 04:18:15</text>
<g fill="#00FF00"><circle cx="675.2" cy="1226.6" r="2.0"/><circle cx="686.4" cy="1226.6" r="2.0"/><circle cx="697.6" cy="1226.6" r="2.0"/><circle cx="708.8" cy="1226.6" r="2.0"/><circle cx="720.0" cy="1226.6" r="2.0"/><circle cx="731.3" cy="1226.6" r="2.0"/></g>
<polygon points="707.2,1219.3 694.7,1226.6 707.2,1233.8" fill="#00FF00"/>
<text x="738.6" y="1234.8" font-size="25.05" fill="#00FF00">A 2019-02-02 23:50:21</text>
<path d="M674.6 1254.7 H730.2" fill="none" stroke="#0000FF" stroke-width="4.2" stroke-linecap="round"/>
<polygon points="698.8,1247.4 711.3,1254.7 698.8,1261.9" fill="#0000FF"/>
<text x="738.6" y="1262.9" font-size="25.05" fill="#0000FF">B 2019-02-02 19:37:27</text>
</svg></body></html>
